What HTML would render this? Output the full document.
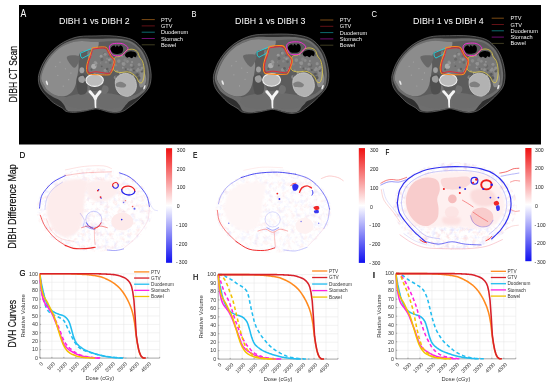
<!DOCTYPE html>
<html><head><meta charset="utf-8"><title>DIBH figure</title>
<style>
html,body{margin:0;padding:0;background:#fff;}
svg{display:block}
text{font-family:"Liberation Sans",sans-serif}
</style></head><body>
<svg width="550" height="387" viewBox="0 0 550 387">
<defs>
<filter id="b1" x="-20%" y="-20%" width="140%" height="140%"><feGaussianBlur stdDeviation="0.55"/></filter>
<filter id="b2" x="-20%" y="-20%" width="140%" height="140%"><feGaussianBlur stdDeviation="1.1"/></filter>
<filter id="b3" x="-20%" y="-20%" width="140%" height="140%"><feGaussianBlur stdDeviation="0.3"/></filter>
<g id="ctbody">
<g filter="url(#b1)">
<path d="M95.90,35.90 C90.90,36.02 84.52,35.87 80.00,36.50 C75.48,37.13 72.40,38.20 68.80,39.70 C65.20,41.20 61.63,43.13 58.40,45.50 C55.17,47.87 51.98,50.88 49.40,53.90 C46.82,56.92 44.63,60.27 42.90,63.60 C41.17,66.93 39.75,71.17 39.00,73.90 C38.25,76.63 38.35,78.07 38.40,80.00 C38.45,81.93 38.73,83.75 39.30,85.50 C39.87,87.25 40.68,88.83 41.80,90.50 C42.92,92.17 44.08,93.47 46.00,95.50 C47.92,97.53 50.57,100.58 53.30,102.70 C56.03,104.82 60.28,106.77 62.40,108.20 C64.52,109.63 64.18,110.60 66.00,111.30 C67.82,112.00 70.57,112.37 73.30,112.40 C76.03,112.43 79.37,111.97 82.40,111.50 C85.43,111.03 89.23,110.03 91.50,109.60 C93.77,109.17 94.50,108.90 96.00,108.90 C97.50,108.90 98.53,109.12 100.50,109.60 C102.47,110.08 105.37,111.25 107.80,111.80 C110.23,112.35 112.67,112.95 115.10,112.90 C117.53,112.85 120.28,112.28 122.40,111.50 C124.52,110.72 125.38,109.97 127.80,108.20 C130.22,106.43 134.17,103.33 136.90,100.90 C139.63,98.47 142.25,95.75 144.20,93.60 C146.15,91.45 147.53,89.93 148.60,88.00 C149.67,86.07 150.18,84.35 150.60,82.00 C151.02,79.65 151.30,76.97 151.10,73.90 C150.90,70.83 150.22,66.83 149.40,63.60 C148.58,60.37 147.60,57.30 146.20,54.50 C144.80,51.70 143.15,49.17 141.00,46.80 C138.85,44.43 136.32,41.92 133.30,40.30 C130.28,38.68 126.78,37.85 122.90,37.10 C119.02,36.35 114.50,36.00 110.00,35.80 C105.50,35.60 100.90,35.78 95.90,35.90Z" fill="#2e2e2e" stroke="#707070" stroke-width="0.7"/>
<path d="M95.84,38.73 C91.13,38.74 85.11,38.13 80.77,38.52 C76.42,38.91 73.34,39.75 69.79,41.07 C66.24,42.38 62.66,44.16 59.48,46.40 C56.29,48.64 53.20,51.59 50.66,54.51 C48.12,57.43 45.97,60.68 44.26,63.92 C42.55,67.16 41.14,71.29 40.40,73.95 C39.65,76.62 39.61,78.06 39.80,79.90 C39.98,81.74 40.55,83.07 41.50,85.00 C42.45,86.93 43.58,89.50 45.50,91.50 C47.42,93.50 50.58,95.50 53.00,97.00 C55.42,98.50 58.17,99.17 60.00,100.50 C61.83,101.83 62.83,103.37 64.00,105.00 C65.17,106.63 65.45,109.20 67.00,110.30 C68.55,111.40 70.73,111.52 73.30,111.60 C75.87,111.68 79.37,111.25 82.40,110.80 C85.43,110.35 89.23,109.33 91.50,108.90 C93.77,108.47 94.50,108.20 96.00,108.20 C97.50,108.20 98.53,108.43 100.50,108.90 C102.47,109.37 105.37,110.47 107.80,111.00 C110.23,111.53 112.90,112.13 115.10,112.10 C117.30,112.07 119.35,111.82 121.00,110.80 C122.65,109.78 123.67,107.55 125.00,106.00 C126.33,104.45 127.00,102.92 129.00,101.50 C131.00,100.08 134.42,99.17 137.00,97.50 C139.58,95.83 142.70,93.42 144.50,91.50 C146.30,89.58 147.10,87.62 147.80,86.00 C148.50,84.38 148.48,83.80 148.71,81.80 C148.94,79.79 149.40,76.93 149.20,73.97 C149.01,71.01 148.34,67.14 147.55,64.02 C146.76,60.90 145.81,57.94 144.45,55.24 C143.09,52.53 141.50,50.07 139.40,47.82 C137.29,45.56 134.78,43.16 131.80,41.70 C128.82,40.23 125.31,39.58 121.51,39.03 C117.72,38.48 113.31,38.46 109.03,38.41 C104.75,38.36 100.55,38.71 95.84,38.73Z" fill="#6e6e6e"/>
<path d="M95.76,42.11 C91.38,42.04 85.81,40.81 81.67,40.90 C77.53,40.99 74.43,41.57 70.93,42.65 C67.44,43.74 63.84,45.33 60.70,47.42 C57.57,49.51 54.58,52.40 52.10,55.21 C49.62,58.02 47.50,61.16 45.82,64.29 C44.13,67.43 42.74,71.43 42.00,74.01 C41.26,76.59 41.09,78.04 41.39,79.79 C41.69,81.54 42.78,82.80 43.80,84.50 C44.82,86.20 45.63,88.25 47.50,90.00 C49.37,91.75 52.08,93.83 55.00,95.00 C57.92,96.17 61.17,96.83 65.00,97.00 C68.83,97.17 74.17,96.67 78.00,96.00 C81.83,95.33 85.00,94.00 88.00,93.00 C91.00,92.00 93.33,90.00 96.00,90.00 C98.67,90.00 101.00,92.00 104.00,93.00 C107.00,94.00 110.17,95.33 114.00,96.00 C117.83,96.67 123.33,97.25 127.00,97.00 C130.67,96.75 133.42,95.67 136.00,94.50 C138.58,93.33 140.87,91.58 142.50,90.00 C144.13,88.42 145.08,86.40 145.80,85.00 C146.52,83.60 146.57,83.42 146.82,81.59 C147.07,79.77 147.49,76.90 147.30,74.04 C147.11,71.18 146.46,67.46 145.70,64.44 C144.93,61.43 144.01,58.57 142.70,55.97 C141.38,53.37 139.86,50.98 137.79,48.84 C135.72,46.70 133.23,44.42 130.27,43.13 C127.31,41.84 123.76,41.40 120.04,41.09 C116.32,40.79 112.00,41.12 107.95,41.29 C103.90,41.46 100.14,42.18 95.76,42.11Z" fill="#5c5c5c"/>
</g></g>
<g id="ctorg">
<g filter="url(#b1)">
<path d="M67.01,96.98 C69.25,95.74 73.90,94.95 77.34,94.29 C80.79,93.64 85.10,92.71 87.68,93.05 C90.26,93.40 92.09,94.16 92.85,96.36 C93.61,98.57 94.12,104.22 92.23,106.28 C90.33,108.35 85.34,108.76 81.48,108.76 C77.62,108.76 72.00,107.46 69.07,106.28 C66.15,105.11 64.25,103.29 63.91,101.74 C63.56,100.19 64.77,98.22 67.01,96.98Z" fill="#6c6c6c"/>
<path d="M124.89,96.98 C122.65,95.74 118.00,94.95 114.55,94.29 C111.11,93.64 106.80,92.71 104.22,93.05 C101.63,93.40 99.81,94.16 99.05,96.36 C98.29,98.57 97.77,104.22 99.67,106.28 C101.56,108.35 106.56,108.76 110.42,108.76 C114.28,108.76 119.89,107.46 122.82,106.28 C125.75,105.11 127.65,103.29 127.99,101.74 C128.33,100.19 127.13,98.22 124.89,96.98Z" fill="#6c6c6c"/>
<path d="M83.96,86.85 C84.79,85.96 87.44,84.79 88.51,85.61 C89.57,86.44 90.64,90.37 90.37,91.81 C90.09,93.26 87.99,94.43 86.85,94.29 C85.72,94.16 84.03,92.23 83.55,90.99 C83.06,89.75 83.13,87.75 83.96,86.85Z" fill="#707070"/>
<path d="M107.94,86.85 C107.11,85.96 104.46,84.79 103.39,85.61 C102.32,86.44 101.25,90.37 101.53,91.81 C101.81,93.26 103.91,94.43 105.04,94.29 C106.18,94.16 107.87,92.23 108.35,90.99 C108.83,89.75 108.76,87.75 107.94,86.85Z" fill="#707070"/>
<clipPath id="cavclip"><path d="M95.76,42.11 C91.38,42.04 85.81,40.81 81.67,40.90 C77.53,40.99 74.43,41.57 70.93,42.65 C67.44,43.74 63.84,45.33 60.70,47.42 C57.57,49.51 54.58,52.40 52.10,55.21 C49.62,58.02 47.50,61.16 45.82,64.29 C44.13,67.43 42.74,71.43 42.00,74.01 C41.26,76.59 41.09,78.04 41.39,79.79 C41.69,81.54 42.78,82.80 43.80,84.50 C44.82,86.20 45.63,88.25 47.50,90.00 C49.37,91.75 52.08,93.83 55.00,95.00 C57.92,96.17 61.17,96.83 65.00,97.00 C68.83,97.17 74.17,96.67 78.00,96.00 C81.83,95.33 85.00,94.00 88.00,93.00 C91.00,92.00 93.33,90.00 96.00,90.00 C98.67,90.00 101.00,92.00 104.00,93.00 C107.00,94.00 110.17,95.33 114.00,96.00 C117.83,96.67 123.33,97.25 127.00,97.00 C130.67,96.75 133.42,95.67 136.00,94.50 C138.58,93.33 140.87,91.58 142.50,90.00 C144.13,88.42 145.08,86.40 145.80,85.00 C146.52,83.60 146.57,83.42 146.82,81.59 C147.07,79.77 147.49,76.90 147.30,74.04 C147.11,71.18 146.46,67.46 145.70,64.44 C144.93,61.43 144.01,58.57 142.70,55.97 C141.38,53.37 139.86,50.98 137.79,48.84 C135.72,46.70 133.23,44.42 130.27,43.13 C127.31,41.84 123.76,41.40 120.04,41.09 C116.32,40.79 112.00,41.12 107.95,41.29 C103.90,41.46 100.14,42.18 95.76,42.11Z"/></clipPath>
<path d="M40.13,75.28 C39.62,71.31 40.13,66.66 41.17,62.87 C42.20,59.08 43.92,55.64 46.34,52.54 C48.75,49.44 52.19,46.34 55.64,44.27 C59.08,42.20 63.39,41.17 67.01,40.13 C70.63,39.10 73.55,38.41 77.34,38.07 C81.13,37.72 86.30,37.72 89.75,38.07 C93.19,38.41 96.78,38.48 98.02,40.13 C99.26,41.79 98.91,46.27 97.19,47.99 C95.47,49.71 90.47,49.71 87.68,50.47 C84.89,51.23 81.99,51.16 80.44,52.54 C78.89,53.92 78.69,56.33 78.38,58.74 C78.07,61.15 78.76,64.08 78.58,67.01 C78.41,69.94 77.83,73.38 77.34,76.31 C76.86,79.24 76.45,82.17 75.69,84.58 C74.93,86.99 74.24,88.95 72.80,90.78 C71.35,92.61 69.35,94.60 67.01,95.53 C64.66,96.47 61.50,96.71 58.74,96.36 C55.98,96.02 52.88,95.09 50.47,93.47 C48.06,91.85 45.99,89.68 44.27,86.65 C42.55,83.61 40.65,79.24 40.13,75.28Z" fill="#8c8c8c" clip-path="url(#cavclip)"/>
<path d="M76.93,77.34 C78.14,74.38 83.96,73.28 85.61,75.69 C87.27,78.10 88.06,88.85 86.85,91.81 C85.65,94.78 80.03,95.88 78.38,93.47 C76.72,91.06 75.72,80.31 76.93,77.34Z" fill="#505050"/>
<path d="M67.01,56.67 C68.04,55.26 74.17,55.29 76.31,55.43 C78.45,55.57 79.58,56.09 79.82,57.50 C80.07,58.91 78.65,62.22 77.76,63.91 C76.86,65.60 75.72,67.63 74.45,67.63 C73.17,67.63 71.35,65.73 70.11,63.91 C68.87,62.08 65.97,58.08 67.01,56.67Z" fill="#686868"/>
<path d="M88.40,50.85 C91.04,49.17 100.16,47.75 103.91,48.53 C107.65,49.30 109.13,53.31 110.88,55.50 C112.64,57.70 114.19,59.12 114.45,61.71 C114.71,64.29 113.67,68.99 112.43,71.01 C111.19,73.02 110.50,73.41 107.01,73.80 C103.52,74.19 94.81,74.32 91.50,73.33 C88.20,72.35 87.73,70.36 87.16,67.91 C86.59,65.45 87.89,61.45 88.09,58.60 C88.30,55.76 85.77,52.53 88.40,50.85Z" fill="#7a7a7a"/>
<path d="M114.76,58.60 C116.05,56.28 119.41,57.57 122.51,56.28 C125.61,54.99 130.52,50.72 133.36,50.85 C136.21,50.98 137.81,54.21 139.57,57.05 C141.32,59.90 143.34,64.03 143.91,67.91 C144.48,71.78 143.96,78.37 142.98,80.31 C141.99,82.25 139.88,80.70 138.02,79.53 C136.16,78.37 134.66,74.50 131.81,73.33 C128.97,72.17 123.80,73.07 120.96,72.56 C118.12,72.04 115.79,72.56 114.76,70.23 C113.73,67.91 113.47,60.93 114.76,58.60Z" fill="#787878"/>
<path d="M138.55,68.73 C139.17,68.18 142.74,70.37 144.01,72.00 C145.28,73.64 146.08,76.37 146.19,78.55 C146.30,80.73 145.64,83.64 144.66,85.09 C143.68,86.55 141.32,88.00 140.30,87.28 C139.28,86.55 138.55,82.73 138.55,80.73 C138.55,78.73 140.30,77.28 140.30,75.28 C140.30,73.28 137.93,69.28 138.55,68.73Z" fill="#8a8a8a"/>
<path d="M78.55,77.46 C79.17,76.44 81.82,75.35 82.91,75.71 C84.00,76.08 85.09,78.44 85.09,79.64 C85.09,80.84 83.89,82.55 82.91,82.91 C81.93,83.28 79.93,82.73 79.20,81.82 C78.48,80.91 77.93,78.48 78.55,77.46Z" fill="#9c9c9c"/>
<circle cx="93.83" cy="66.36" r="2.6" fill="#acacac"/>
<ellipse cx="81.89" cy="70.23" rx="2.4" ry="2.9" fill="#a0a0a0"/>
<circle cx="95.30" cy="62.24" r="1.53" fill="#909090"/>
<circle cx="100.61" cy="63.01" r="0.81" fill="#888888"/>
<circle cx="108.78" cy="56.28" r="0.95" fill="#686868"/>
<circle cx="106.08" cy="62.18" r="1.18" fill="#888888"/>
<circle cx="104.32" cy="54.01" r="1.49" fill="#686868"/>
<circle cx="101.71" cy="66.37" r="0.93" fill="#606060"/>
<circle cx="111.48" cy="51.75" r="1.46" fill="#606060"/>
<circle cx="96.01" cy="63.30" r="1.37" fill="#989898"/>
<circle cx="110.66" cy="59.12" r="1.16" fill="#888888"/>
<circle cx="110.99" cy="69.25" r="0.83" fill="#606060"/>
<circle cx="101.08" cy="56.25" r="1.42" fill="#989898"/>
<circle cx="109.18" cy="59.67" r="1.26" fill="#989898"/>
<circle cx="101.96" cy="59.38" r="1.52" fill="#686868"/>
<circle cx="105.28" cy="70.30" r="1.59" fill="#909090"/>
<circle cx="105.04" cy="54.27" r="1.57" fill="#909090"/>
<circle cx="110.29" cy="62.76" r="1.31" fill="#686868"/>
<circle cx="112.17" cy="56.44" r="0.85" fill="#606060"/>
<circle cx="109.15" cy="71.57" r="1.08" fill="#606060"/>
<circle cx="91.45" cy="69.63" r="1.04" fill="#606060"/>
<circle cx="107.24" cy="69.12" r="1.28" fill="#606060"/>
<circle cx="107.08" cy="58.76" r="1.06" fill="#888888"/>
<circle cx="109.76" cy="71.38" r="0.99" fill="#888888"/>
<circle cx="90.76" cy="51.00" r="1.28" fill="#606060"/>
<circle cx="90.66" cy="54.98" r="1.03" fill="#989898"/>
<circle cx="95.87" cy="65.29" r="1.05" fill="#909090"/>
<circle cx="111.50" cy="69.62" r="1.10" fill="#989898"/>
<circle cx="139.14" cy="64.49" r="1.50" fill="#909090"/>
<circle cx="130.71" cy="69.93" r="1.41" fill="#909090"/>
<circle cx="127.23" cy="72.26" r="1.84" fill="#606060"/>
<circle cx="127.40" cy="61.51" r="1.45" fill="#8c8c8c"/>
<circle cx="115.85" cy="65.16" r="1.21" fill="#848484"/>
<circle cx="125.75" cy="69.21" r="0.96" fill="#606060"/>
<circle cx="132.56" cy="66.35" r="1.82" fill="#686868"/>
<circle cx="132.05" cy="61.99" r="0.92" fill="#949494"/>
<circle cx="117.18" cy="71.23" r="1.15" fill="#8c8c8c"/>
<circle cx="127.92" cy="69.29" r="1.08" fill="#8c8c8c"/>
<circle cx="120.56" cy="73.13" r="1.50" fill="#909090"/>
<circle cx="123.69" cy="64.28" r="1.71" fill="#909090"/>
<circle cx="141.89" cy="71.40" r="1.21" fill="#606060"/>
<circle cx="121.57" cy="74.20" r="1.23" fill="#606060"/>
<circle cx="133.93" cy="70.61" r="1.00" fill="#585858"/>
<circle cx="124.27" cy="63.27" r="1.12" fill="#909090"/>
<circle cx="137.51" cy="77.85" r="1.24" fill="#585858"/>
<circle cx="133.18" cy="76.08" r="1.17" fill="#949494"/>
<circle cx="136.89" cy="56.29" r="1.22" fill="#606060"/>
<circle cx="138.22" cy="68.87" r="1.18" fill="#909090"/>
<circle cx="137.44" cy="70.43" r="1.52" fill="#909090"/>
<circle cx="131.53" cy="65.30" r="1.69" fill="#848484"/>
<circle cx="122.89" cy="63.56" r="1.19" fill="#949494"/>
<circle cx="130.95" cy="56.33" r="1.06" fill="#949494"/>
<circle cx="115.66" cy="77.44" r="1.89" fill="#848484"/>
<circle cx="127.32" cy="77.60" r="1.12" fill="#686868"/>
<circle cx="135.76" cy="74.96" r="1.65" fill="#686868"/>
<circle cx="141.67" cy="68.15" r="1.76" fill="#606060"/>
<circle cx="138.81" cy="78.08" r="1.71" fill="#585858"/>
<circle cx="116.76" cy="76.52" r="1.41" fill="#686868"/>
<circle cx="120.92" cy="76.05" r="1.48" fill="#949494"/>
<circle cx="115.89" cy="72.84" r="1.40" fill="#606060"/>
<circle cx="122.02" cy="55.97" r="1.31" fill="#848484"/>
<circle cx="141.01" cy="69.74" r="1.03" fill="#8c8c8c"/>
<circle cx="141.91" cy="68.08" r="1.68" fill="#909090"/>
<circle cx="125.08" cy="60.09" r="1.79" fill="#848484"/>
<circle cx="118.77" cy="61.07" r="1.82" fill="#8c8c8c"/>
<circle cx="137.40" cy="74.66" r="1.39" fill="#585858"/>
<circle cx="131.02" cy="64.81" r="1.17" fill="#909090"/>
<circle cx="122.82" cy="67.77" r="0.95" fill="#949494"/>
<path d="M115.55,85.68 C115.32,83.67 115.05,80.76 116.00,78.86 C116.95,76.97 119.22,75.19 121.23,74.32 C123.23,73.45 125.89,73.07 128.05,73.64 C130.20,74.20 132.78,75.72 134.18,77.73 C135.58,79.73 136.45,83.22 136.45,85.68 C136.45,88.14 135.58,90.72 134.18,92.50 C132.78,94.28 130.20,95.98 128.05,96.36 C125.89,96.74 123.01,95.68 121.23,94.77 C119.45,93.86 118.31,92.42 117.36,90.91 C116.42,89.39 115.77,87.69 115.55,85.68Z" fill="#b2b2b2" stroke="#c8c8c8" stroke-width="0.8"/>
<path d="M116.00,83.64 C116.68,82.88 118.88,81.67 120.55,81.82 C122.21,81.97 125.32,83.64 126.00,84.55 C126.68,85.45 125.70,86.82 124.64,87.27 C123.58,87.73 121.00,87.42 119.64,87.27 C118.27,87.12 117.06,86.97 116.45,86.36 C115.85,85.76 115.32,84.39 116.00,83.64Z" fill="#808080"/>
<circle cx="60.00" cy="62.18" r="0.6" fill="#a6a6a6"/>
<circle cx="65.46" cy="68.73" r="0.6" fill="#a6a6a6"/>
<circle cx="57.82" cy="75.28" r="0.6" fill="#a6a6a6"/>
<circle cx="68.73" cy="79.64" r="0.6" fill="#a6a6a6"/>
<circle cx="63.27" cy="86.19" r="0.6" fill="#a6a6a6"/>
<circle cx="55.64" cy="66.55" r="0.6" fill="#a6a6a6"/>
<circle cx="70.91" cy="73.09" r="0.6" fill="#a6a6a6"/>
</g>
<g filter="url(#b3)">
<path d="M110.42,49.61 C110.21,48.48 111.30,47.18 111.97,46.51 C112.64,45.84 113.83,45.48 114.45,45.58 C115.07,45.68 115.28,47.18 115.69,47.13 C116.10,47.08 116.41,45.32 116.93,45.27 C117.45,45.22 118.22,46.82 118.79,46.82 C119.36,46.82 119.72,45.27 120.34,45.27 C120.96,45.27 122.05,46.10 122.51,46.82 C122.98,47.55 123.24,48.63 123.13,49.61 C123.03,50.59 122.77,51.99 121.89,52.71 C121.01,53.44 119.31,53.85 117.86,53.95 C116.41,54.06 114.45,54.06 113.21,53.33 C111.97,52.61 110.63,50.75 110.42,49.61Z" fill="#000"/>
<path d="M124.99,55.19 C124.94,54.32 125.97,53.07 126.85,52.40 C127.73,51.73 128.97,51.27 130.26,51.16 C131.56,51.06 133.52,51.27 134.60,51.78 C135.69,52.30 136.62,53.33 136.78,54.26 C136.93,55.19 136.05,57.00 135.53,57.36 C135.02,57.73 134.29,56.28 133.67,56.43 C133.05,56.59 132.54,58.19 131.81,58.29 C131.09,58.40 130.11,57.16 129.33,57.05 C128.56,56.95 127.89,57.98 127.16,57.67 C126.44,57.36 125.04,56.07 124.99,55.19Z" fill="#000"/>
<ellipse cx="94.63" cy="80.29" rx="8.7" ry="6.1" fill="#bcbcbc" stroke="#f0f0f0" stroke-width="1.05"/>
<ellipse cx="94.88" cy="89.11" rx="4.2" ry="1.9" fill="#5c5c5c"/>
<path d="M88.67,90.60 L90.78,90.35 L95.01,95.57 L99.23,90.35 L101.34,90.60 L101.47,92.21 L97.61,97.06 L96.37,100.16 L96.25,105.75 L96.50,107.74 L94.88,107.99 L94.63,105.75 L94.39,100.16 L92.89,97.06 L88.55,92.21Z" fill="#f6f6f6"/>
<ellipse cx="46.91" cy="82.91" rx="0.9" ry="2.4" fill="#e8e8e8" transform="rotate(-20 46.91 82.91)"/>
<ellipse cx="144.44" cy="87.28" rx="0.9" ry="2.4" fill="#e8e8e8" transform="rotate(20 144.44 87.28)"/>
</g>
</g>
</defs>
<rect x="19" y="5" width="522" height="139.5" fill="#000"/>
<use href="#ctbody" transform="translate(94.75 74.35) scale(1.0000 1.0000) translate(-94.75 -74.35)"/>
<use href="#ctorg" transform="translate(94.75 74.35) scale(1.0000 1.0000) translate(-94.75 -74.35)"/>
<g transform="translate(94.75 74.35) scale(1.0000 1.0000) translate(-94.75 -74.35)" fill="none" stroke-linejoin="round">
<path d="M124.06,53.18 C125.22,52.14 125.74,50.72 127.16,50.08 C128.58,49.43 130.91,49.04 132.59,49.30 C134.27,49.56 136.08,50.34 137.24,51.63 C138.40,52.92 138.66,55.37 139.57,57.05 C140.47,58.73 141.89,59.64 142.67,61.71 C143.44,63.77 144.01,66.87 144.22,69.46 C144.42,72.04 144.29,75.01 143.91,77.21 C143.52,79.41 142.74,81.86 141.89,82.64 C141.04,83.41 139.70,82.76 138.79,81.86 C137.89,80.96 137.63,78.63 136.47,77.21 C135.30,75.79 133.36,74.24 131.81,73.33 C130.26,72.43 128.97,71.91 127.16,71.78 C125.35,71.65 123.03,72.69 120.96,72.56 C118.89,72.43 116.05,72.04 114.76,71.01 C113.47,69.97 113.34,68.17 113.21,66.36 C113.08,64.55 113.60,61.71 113.98,60.16 C114.37,58.60 114.50,57.70 115.53,57.05 C116.57,56.41 118.76,56.93 120.19,56.28 C121.61,55.63 122.90,54.21 124.06,53.18Z" stroke="#ecd648" stroke-width="0.75"/>
<path d="M80.34,53.18 L91.50,48.53 L92.28,50.08 L89.18,54.73 L82.20,58.29 L80.65,56.28Z" stroke="#22d2dc" stroke-width="0.9"/>
<path d="M109.33,46.98 C109.59,45.56 110.50,44.47 112.43,43.88 C114.37,43.28 118.76,43.15 120.96,43.41 C123.16,43.67 124.45,44.57 125.61,45.43 C126.78,46.28 128.20,47.24 127.94,48.53 C127.68,49.82 125.22,52.02 124.06,53.18 C122.90,54.34 122.64,55.12 120.96,55.50 C119.28,55.89 115.66,56.02 113.98,55.50 C112.30,54.99 111.66,53.82 110.88,52.40 C110.11,50.98 109.07,48.40 109.33,46.98Z" stroke="#ff2ae0" stroke-width="0.9"/>
<path d="M93.05,47.75 C95.25,47.24 102.23,46.72 104.68,46.98 C107.14,47.24 106.75,47.88 107.78,49.30 C108.82,50.72 109.77,53.82 110.88,55.50 C111.99,57.18 113.80,58.09 114.45,59.38 C115.10,60.67 115.02,61.71 114.76,63.26 C114.50,64.81 113.55,67.00 112.90,68.68 C112.25,70.36 111.74,72.30 110.88,73.33 C110.03,74.37 111.01,74.70 107.78,74.88 C104.55,75.06 94.86,74.68 91.50,74.42 C88.14,74.16 88.45,74.42 87.63,73.33 C86.80,72.25 86.54,69.84 86.54,67.91 C86.54,65.97 87.06,63.77 87.63,61.71 C88.20,59.64 89.31,57.44 89.95,55.50 C90.60,53.57 90.99,51.37 91.50,50.08 C92.02,48.79 90.86,48.27 93.05,47.75Z" stroke="#ff8a1c" stroke-width="1.0"/>
<path d="M93.83,48.99 C95.90,48.53 102.41,47.75 104.68,48.06 C106.96,48.37 106.52,49.48 107.47,50.85 C108.43,52.22 109.39,54.78 110.42,56.28 C111.45,57.78 113.08,58.68 113.67,59.84 C114.27,61.01 114.24,61.78 113.98,63.26 C113.73,64.73 112.72,67.18 112.12,68.68 C111.53,70.18 111.27,71.47 110.42,72.25 C109.57,73.02 109.39,73.41 107.01,73.33 C104.63,73.26 99.00,71.86 96.16,71.78 C93.31,71.71 91.30,72.87 89.95,72.87 C88.61,72.87 88.48,72.74 88.09,71.78 C87.71,70.83 87.52,68.81 87.63,67.13 C87.73,65.45 88.20,63.51 88.71,61.71 C89.23,59.90 90.13,58.09 90.73,56.28 C91.32,54.47 91.76,52.07 92.28,50.85 C92.80,49.64 91.76,49.46 93.83,48.99Z" stroke="#ee2030" stroke-width="0.9"/>
</g>
<use href="#ctbody" transform="translate(271.10 73.80) scale(1.0240 1.0298) translate(-94.75 -74.35)"/>
<use href="#ctorg" transform="translate(271.70 73.80) scale(1.0240 1.0298) translate(-94.75 -74.35)"/>
<g transform="translate(271.70 73.80) scale(1.0240 1.0298) translate(-94.75 -74.35)" fill="none" stroke-linejoin="round">
<path d="M124.06,53.18 C125.22,52.14 125.74,50.72 127.16,50.08 C128.58,49.43 130.91,49.04 132.59,49.30 C134.27,49.56 136.08,50.34 137.24,51.63 C138.40,52.92 138.66,55.37 139.57,57.05 C140.47,58.73 141.89,59.64 142.67,61.71 C143.44,63.77 144.01,66.87 144.22,69.46 C144.42,72.04 144.29,75.01 143.91,77.21 C143.52,79.41 142.74,81.86 141.89,82.64 C141.04,83.41 139.70,82.76 138.79,81.86 C137.89,80.96 137.63,78.63 136.47,77.21 C135.30,75.79 133.36,74.24 131.81,73.33 C130.26,72.43 128.97,71.91 127.16,71.78 C125.35,71.65 123.03,72.69 120.96,72.56 C118.89,72.43 116.05,72.04 114.76,71.01 C113.47,69.97 113.34,68.17 113.21,66.36 C113.08,64.55 113.60,61.71 113.98,60.16 C114.37,58.60 114.50,57.70 115.53,57.05 C116.57,56.41 118.76,56.93 120.19,56.28 C121.61,55.63 122.90,54.21 124.06,53.18Z" stroke="#ecd648" stroke-width="0.75"/>
<path d="M80.34,53.18 L91.50,48.53 L92.28,50.08 L89.18,54.73 L82.20,58.29 L80.65,56.28Z" stroke="#22d2dc" stroke-width="0.9"/>
<path d="M109.33,46.98 C109.59,45.56 110.50,44.47 112.43,43.88 C114.37,43.28 118.76,43.15 120.96,43.41 C123.16,43.67 124.45,44.57 125.61,45.43 C126.78,46.28 128.20,47.24 127.94,48.53 C127.68,49.82 125.22,52.02 124.06,53.18 C122.90,54.34 122.64,55.12 120.96,55.50 C119.28,55.89 115.66,56.02 113.98,55.50 C112.30,54.99 111.66,53.82 110.88,52.40 C110.11,50.98 109.07,48.40 109.33,46.98Z" stroke="#ff2ae0" stroke-width="0.9"/>
<path d="M93.05,47.75 C95.25,47.24 102.23,46.72 104.68,46.98 C107.14,47.24 106.75,47.88 107.78,49.30 C108.82,50.72 109.77,53.82 110.88,55.50 C111.99,57.18 113.80,58.09 114.45,59.38 C115.10,60.67 115.02,61.71 114.76,63.26 C114.50,64.81 113.55,67.00 112.90,68.68 C112.25,70.36 111.74,72.30 110.88,73.33 C110.03,74.37 111.01,74.70 107.78,74.88 C104.55,75.06 94.86,74.68 91.50,74.42 C88.14,74.16 88.45,74.42 87.63,73.33 C86.80,72.25 86.54,69.84 86.54,67.91 C86.54,65.97 87.06,63.77 87.63,61.71 C88.20,59.64 89.31,57.44 89.95,55.50 C90.60,53.57 90.99,51.37 91.50,50.08 C92.02,48.79 90.86,48.27 93.05,47.75Z" stroke="#ff8a1c" stroke-width="1.0"/>
<path d="M93.83,48.99 C95.90,48.53 102.41,47.75 104.68,48.06 C106.96,48.37 106.52,49.48 107.47,50.85 C108.43,52.22 109.39,54.78 110.42,56.28 C111.45,57.78 113.08,58.68 113.67,59.84 C114.27,61.01 114.24,61.78 113.98,63.26 C113.73,64.73 112.72,67.18 112.12,68.68 C111.53,70.18 111.27,71.47 110.42,72.25 C109.57,73.02 109.39,73.41 107.01,73.33 C104.63,73.26 99.00,71.86 96.16,71.78 C93.31,71.71 91.30,72.87 89.95,72.87 C88.61,72.87 88.48,72.74 88.09,71.78 C87.71,70.83 87.52,68.81 87.63,67.13 C87.73,65.45 88.20,63.51 88.71,61.71 C89.23,59.90 90.13,58.09 90.73,56.28 C91.32,54.47 91.76,52.07 92.28,50.85 C92.80,49.64 91.76,49.46 93.83,48.99Z" stroke="#ee2030" stroke-width="0.9"/>
</g>
<use href="#ctbody" transform="translate(448.40 74.15) scale(1.0044 1.0000) translate(-94.75 -74.35)"/>
<use href="#ctorg" transform="translate(448.40 74.15) scale(1.0044 1.0000) translate(-94.75 -74.35)"/>
<g transform="translate(448.40 74.15) scale(1.0044 1.0000) translate(-94.75 -74.35)" fill="none" stroke-linejoin="round">
<path d="M124.06,53.18 C125.22,52.14 125.74,50.72 127.16,50.08 C128.58,49.43 130.91,49.04 132.59,49.30 C134.27,49.56 136.08,50.34 137.24,51.63 C138.40,52.92 138.66,55.37 139.57,57.05 C140.47,58.73 141.89,59.64 142.67,61.71 C143.44,63.77 144.01,66.87 144.22,69.46 C144.42,72.04 144.29,75.01 143.91,77.21 C143.52,79.41 142.74,81.86 141.89,82.64 C141.04,83.41 139.70,82.76 138.79,81.86 C137.89,80.96 137.63,78.63 136.47,77.21 C135.30,75.79 133.36,74.24 131.81,73.33 C130.26,72.43 128.97,71.91 127.16,71.78 C125.35,71.65 123.03,72.69 120.96,72.56 C118.89,72.43 116.05,72.04 114.76,71.01 C113.47,69.97 113.34,68.17 113.21,66.36 C113.08,64.55 113.60,61.71 113.98,60.16 C114.37,58.60 114.50,57.70 115.53,57.05 C116.57,56.41 118.76,56.93 120.19,56.28 C121.61,55.63 122.90,54.21 124.06,53.18Z" stroke="#ecd648" stroke-width="0.75"/>
<path d="M80.34,53.18 L91.50,48.53 L92.28,50.08 L89.18,54.73 L82.20,58.29 L80.65,56.28Z" stroke="#22d2dc" stroke-width="0.9"/>
<path d="M109.33,46.98 C109.59,45.56 110.50,44.47 112.43,43.88 C114.37,43.28 118.76,43.15 120.96,43.41 C123.16,43.67 124.45,44.57 125.61,45.43 C126.78,46.28 128.20,47.24 127.94,48.53 C127.68,49.82 125.22,52.02 124.06,53.18 C122.90,54.34 122.64,55.12 120.96,55.50 C119.28,55.89 115.66,56.02 113.98,55.50 C112.30,54.99 111.66,53.82 110.88,52.40 C110.11,50.98 109.07,48.40 109.33,46.98Z" stroke="#ff2ae0" stroke-width="0.9"/>
<path d="M93.05,47.75 C95.25,47.24 102.23,46.72 104.68,46.98 C107.14,47.24 106.75,47.88 107.78,49.30 C108.82,50.72 109.77,53.82 110.88,55.50 C111.99,57.18 113.80,58.09 114.45,59.38 C115.10,60.67 115.02,61.71 114.76,63.26 C114.50,64.81 113.55,67.00 112.90,68.68 C112.25,70.36 111.74,72.30 110.88,73.33 C110.03,74.37 111.01,74.70 107.78,74.88 C104.55,75.06 94.86,74.68 91.50,74.42 C88.14,74.16 88.45,74.42 87.63,73.33 C86.80,72.25 86.54,69.84 86.54,67.91 C86.54,65.97 87.06,63.77 87.63,61.71 C88.20,59.64 89.31,57.44 89.95,55.50 C90.60,53.57 90.99,51.37 91.50,50.08 C92.02,48.79 90.86,48.27 93.05,47.75Z" stroke="#ff8a1c" stroke-width="1.0"/>
<path d="M93.83,48.99 C95.90,48.53 102.41,47.75 104.68,48.06 C106.96,48.37 106.52,49.48 107.47,50.85 C108.43,52.22 109.39,54.78 110.42,56.28 C111.45,57.78 113.08,58.68 113.67,59.84 C114.27,61.01 114.24,61.78 113.98,63.26 C113.73,64.73 112.72,67.18 112.12,68.68 C111.53,70.18 111.27,71.47 110.42,72.25 C109.57,73.02 109.39,73.41 107.01,73.33 C104.63,73.26 99.00,71.86 96.16,71.78 C93.31,71.71 91.30,72.87 89.95,72.87 C88.61,72.87 88.48,72.74 88.09,71.78 C87.71,70.83 87.52,68.81 87.63,67.13 C87.73,65.45 88.20,63.51 88.71,61.71 C89.23,59.90 90.13,58.09 90.73,56.28 C91.32,54.47 91.76,52.07 92.28,50.85 C92.80,49.64 91.76,49.46 93.83,48.99Z" stroke="#ee2030" stroke-width="0.9"/>
</g>
<defs>
<filter id="nzr" x="0" y="0" width="100%" height="100%"><feTurbulence type="fractalNoise" baseFrequency="0.22" numOctaves="3" seed="7"/><feColorMatrix type="matrix" values="0 0 0 0 0.96  0 0 0 0 0.45  0 0 0 0 0.45  2.6 0 0 0 -1.25"/></filter>
<filter id="nzb" x="0" y="0" width="100%" height="100%"><feTurbulence type="fractalNoise" baseFrequency="0.22" numOctaves="3" seed="23"/><feColorMatrix type="matrix" values="0 0 0 0 0.45  0 0 0 0 0.45  0 0 0 0 0.98  0 2.6 0 0 -1.3"/></filter>
<clipPath id="cpD"><ellipse cx="94.5" cy="210" rx="58" ry="42"/></clipPath>
<clipPath id="cpE"><ellipse cx="273.5" cy="211" rx="58" ry="42"/></clipPath>
<clipPath id="cpF"><ellipse cx="455" cy="206" rx="62" ry="44"/></clipPath>
</defs>
<g clip-path="url(#cpD)"><rect x="30" y="160" width="130" height="100" filter="url(#nzr)" opacity="0.28"/><rect x="30" y="160" width="130" height="100" filter="url(#nzb)" opacity="0.22"/></g>
<g clip-path="url(#cpE)"><rect x="208" y="160" width="130" height="100" filter="url(#nzr)" opacity="0.2"/><rect x="208" y="160" width="130" height="100" filter="url(#nzb)" opacity="0.2"/></g>
<g clip-path="url(#cpF)"><rect x="385" y="155" width="140" height="100" filter="url(#nzr)" opacity="0.35"/><rect x="385" y="155" width="140" height="100" filter="url(#nzb)" opacity="0.3"/></g>
<g filter="url(#b3)">
<path d="M46.82,206.56 C47.28,202.26 47.96,195.71 50.35,191.64 C52.75,187.56 56.68,184.26 61.21,182.14 C65.73,180.01 72.97,178.88 77.49,178.88 C82.01,178.88 86.99,179.79 88.34,182.14 C89.70,184.49 86.31,189.37 85.63,192.99 C84.95,196.61 84.73,200.00 84.27,203.85 C83.82,207.69 83.60,212.21 82.92,216.06 C82.24,219.90 81.79,223.75 80.20,226.91 C78.62,230.08 76.36,233.47 73.42,235.05 C70.48,236.64 65.96,237.54 62.56,236.41 C59.17,235.28 55.55,231.44 53.07,228.27 C50.58,225.10 48.68,221.03 47.64,217.42 C46.60,213.80 46.37,210.86 46.82,206.56Z" fill="#fdecec" fill-opacity="1" filter="url(#b2)"/>
<path d="M88.34,182.14 C92.42,180.10 106.21,179.88 111.41,180.78 C116.61,181.68 119.55,184.62 119.55,187.56 C119.55,190.50 115.48,196.16 111.41,198.42 C107.34,200.68 99.20,202.04 95.13,201.13 C91.06,200.23 88.12,196.16 86.99,192.99 C85.86,189.83 84.27,184.17 88.34,182.14Z" fill="#fdeeee" fill-opacity="1" filter="url(#b2)"/>
<ellipse cx="122.27" cy="221.49" rx="11" ry="9" fill="#fdeaea" stroke="none" stroke-width="0.6" opacity="1.0"/>
<path d="M39.50,208.19 C39.72,206.56 40.09,201.18 40.85,198.42 C41.62,195.66 42.08,194.35 44.11,191.64 C46.15,188.92 49.54,184.81 53.07,182.14 C56.59,179.47 63.24,176.71 65.28,175.62" fill="none" stroke="#2222ee" stroke-width="0.9" stroke-opacity="0.85" stroke-linecap="round"/>
<path d="M65.28,175.62 C68.44,175.17 76.59,173.54 84.27,172.91 C91.96,172.28 106.89,172.01 111.41,171.82" fill="none" stroke="#ee1c1c" stroke-width="0.5" stroke-opacity="0.45" stroke-linecap="round"/>
<path d="M119.55,172.91 C121.14,173.54 125.88,174.72 129.05,176.71 C132.22,178.70 135.61,181.68 138.55,184.85 C141.49,188.02 144.88,192.09 146.69,195.71 C148.50,199.32 148.95,204.75 149.40,206.56" fill="none" stroke="#2222ee" stroke-width="0.9" stroke-opacity="0.8" stroke-linecap="round"/>
<path d="M149.40,206.56 C149.13,208.82 149.13,216.06 147.77,220.13 C146.42,224.20 143.70,227.59 141.26,230.98 C138.82,234.38 136.06,237.63 133.12,240.48 C130.18,243.33 125.21,246.81 123.62,248.08" fill="none" stroke="#e8a0c0" stroke-width="0.5" stroke-opacity="0.5" stroke-linecap="round"/>
<path d="M123.62,248.89 C122.27,249.17 118.20,250.34 115.48,250.52 C112.77,250.70 108.70,250.07 107.34,249.98" fill="none" stroke="#2222ee" stroke-width="0.8" stroke-opacity="0.5" stroke-linecap="round"/>
<path d="M40.31,215.24 C41.08,217.05 42.57,222.35 44.93,226.10 C47.28,229.85 51.03,234.56 54.42,237.77 C57.82,240.98 63.47,244.10 65.28,245.37" fill="none" stroke="#ee1c1c" stroke-width="0.9" stroke-opacity="0.75" stroke-linecap="round"/>
<path d="M65.28,245.37 C66.64,245.86 70.25,247.81 73.42,248.35 C76.59,248.89 80.66,248.80 84.27,248.62 C87.89,248.44 93.32,247.49 95.13,247.27" fill="none" stroke="#ee1c1c" stroke-width="1.2" stroke-opacity="0.95" stroke-linecap="round"/>
<path d="M44.93,209.27 C45.24,207.46 45.47,201.81 46.82,198.42 C48.18,195.03 50.44,191.64 53.07,188.92 C55.69,186.21 60.98,183.27 62.56,182.14" fill="none" stroke="#2222ee" stroke-width="0.4" stroke-opacity="0.45" stroke-linecap="round"/>
<path d="M46.28,218.77 C47.19,220.81 49.22,227.68 51.71,230.98 C54.20,234.29 57.59,236.86 61.21,238.58 C64.83,240.30 71.38,240.84 73.42,241.30" fill="none" stroke="#ee1c1c" stroke-width="0.4" stroke-opacity="0.35" stroke-linecap="round"/>
<path d="M65.28,169.93 C68.44,169.34 77.94,167.08 84.27,166.40 C90.61,165.72 98.75,165.49 103.27,165.85 C107.79,166.22 110.05,168.12 111.41,168.57" fill="none" stroke="#ee1c1c" stroke-width="0.4" stroke-opacity="0.3" stroke-linecap="round"/>
<path d="M149.40,202.49 C150.08,203.62 152.12,207.92 153.47,209.27 C154.83,210.63 156.87,210.40 157.54,210.63" fill="none" stroke="#2222ee" stroke-width="0.4" stroke-opacity="0.3" stroke-linecap="round"/>
<ellipse cx="93.77" cy="219.31" rx="8.0" ry="8.0" fill="none" stroke="#7a7af4" stroke-width="0.5" opacity="0.75"/>
<path d="M86.45,222.84 C86.90,223.48 88.07,225.78 89.16,226.64 C90.24,227.50 92.32,227.77 92.96,228.00" fill="none" stroke="#2222ee" stroke-width="0.9" stroke-opacity="0.9" stroke-linecap="round"/>
<path d="M94.59,228.27 C95.22,228.00 97.30,227.55 98.39,226.64 C99.47,225.74 100.65,223.48 101.10,222.84" fill="none" stroke="#ee1c1c" stroke-width="0.9" stroke-opacity="0.9" stroke-linecap="round"/>
<path d="M81.56,227.73 C82.69,227.46 86.31,225.92 88.34,226.10 C90.38,226.28 91.83,228.81 93.77,228.81 C95.72,228.81 97.75,226.28 100.01,226.10 C102.27,225.92 106.12,227.46 107.34,227.73" fill="none" stroke="#ee1c1c" stroke-width="0.7" stroke-opacity="0.7" stroke-linecap="round"/>
<path d="M85.63,226.10 C86.31,226.46 88.12,227.68 89.70,228.27 C91.28,228.86 94.22,229.40 95.13,229.63" fill="none" stroke="#2222ee" stroke-width="0.6" stroke-opacity="0.7" stroke-linecap="round"/>
<path d="M94.31,229.63 C94.36,231.21 94.45,236.64 94.59,239.12 C94.72,241.61 95.04,243.65 95.13,244.55" fill="none" stroke="#ee1c1c" stroke-width="0.5" stroke-opacity="0.5" stroke-linecap="round"/>
<path d="M80.20,213.34 C80.88,214.48 83.82,217.87 84.27,220.13 C84.73,222.39 83.14,225.78 82.92,226.91" fill="none" stroke="#2222ee" stroke-width="0.4" stroke-opacity="0.5" stroke-linecap="round"/>
<g transform="translate(115.48 185.39) rotate(-25)" fill="none" stroke-width="1.0" stroke-linecap="round"><path d="M-2.8,0A2.8,2.8 0 0 1 2.8,0" stroke="#ee1c1c"/><path d="M-2.8,0A2.8,2.8 0 0 0 2.8,0" stroke="#2222ee"/></g>
<g transform="translate(128.24 190.55) rotate(8)" fill="none" stroke-width="1.3" stroke-linecap="round"><path d="M-6.6,0A6.6,4.4 0 0 1 6.6,0" stroke="#ee1c1c"/><path d="M-6.6,0A6.6,4.4 0 0 0 6.6,0" stroke="#2222ee"/></g>
<ellipse cx="97.84" cy="190.55" rx="0.9" ry="0.9" fill="#ee1c1c" stroke="none" stroke-width="0.6" opacity="1.0"/>
<ellipse cx="98.66" cy="189.74" rx="0.7" ry="0.7" fill="#2222ee" stroke="none" stroke-width="0.6" opacity="1.0"/>
<ellipse cx="100.56" cy="197.06" rx="0.9" ry="0.9" fill="#ee1c1c" stroke="none" stroke-width="0.6" opacity="1.0"/>
<ellipse cx="101.10" cy="198.15" rx="0.6" ry="0.6" fill="#2222ee" stroke="none" stroke-width="0.6" opacity="1.0"/>
<ellipse cx="121.72" cy="219.59" rx="0.8" ry="0.8" fill="#2222ee" stroke="none" stroke-width="0.6" opacity="1.0"/>
<ellipse cx="134.48" cy="208.73" rx="1.0" ry="1.0" fill="#2222ee" stroke="none" stroke-width="0.6" opacity="0.7"/>
<ellipse cx="132.58" cy="206.56" rx="0.8" ry="0.8" fill="#ee1c1c" stroke="none" stroke-width="0.6" opacity="0.7"/>
<ellipse cx="123.62" cy="202.49" rx="0.8" ry="0.8" fill="#2222ee" stroke="none" stroke-width="0.6" opacity="0.6"/>
<ellipse cx="125.52" cy="200.59" rx="0.7" ry="0.7" fill="#ee1c1c" stroke="none" stroke-width="0.6" opacity="0.6"/>
<path d="M224.37,209.08 C224.37,204.56 225.67,197.67 228.25,193.58 C230.83,189.49 235.14,186.48 239.87,184.54 C244.61,182.60 252.36,181.74 256.67,181.96 C260.97,182.17 264.63,183.03 265.71,185.83 C266.78,188.63 263.77,194.44 263.12,198.75 C262.48,203.06 262.69,207.36 261.83,211.67 C260.97,215.97 260.11,221.35 257.96,224.58 C255.81,227.81 252.36,230.40 248.92,231.04 C245.47,231.69 240.74,230.18 237.29,228.46 C233.85,226.74 230.40,223.94 228.25,220.71 C226.10,217.48 224.37,213.60 224.37,209.08Z" fill="#fef6f6" fill-opacity="1" filter="url(#b2)"/>
<ellipse cx="304.46" cy="225.87" rx="9" ry="8" fill="#fef2f2" stroke="none" stroke-width="0.6" opacity="1.0"/>
<path d="M218.43,203.92 C218.86,202.54 219.38,198.66 221.02,195.65 C222.65,192.64 224.89,188.85 228.25,185.83 C231.61,182.82 239.01,178.94 241.17,177.57" fill="none" stroke="#2222ee" stroke-width="0.6" stroke-opacity="0.55" stroke-linecap="round"/>
<path d="M241.17,177.57 C243.75,176.88 250.64,174.34 256.67,173.43 C262.69,172.53 270.87,172.01 277.33,172.14 C283.79,172.27 292.40,173.86 295.42,174.21" fill="none" stroke="#2222ee" stroke-width="0.9" stroke-opacity="0.9" stroke-linecap="round"/>
<path d="M295.42,174.21 C297.57,174.94 304.46,176.45 308.33,178.60 C312.21,180.75 315.65,183.77 318.67,187.12 C321.68,190.48 324.61,195.09 326.42,198.75 C328.22,202.41 329.00,207.36 329.52,209.08" fill="none" stroke="#2222ee" stroke-width="0.8" stroke-opacity="0.75" stroke-linecap="round"/>
<path d="M329.52,209.08 C329.26,210.81 328.91,216.19 327.97,219.42 C327.02,222.65 324.52,226.95 323.83,228.46" fill="none" stroke="#2222ee" stroke-width="0.6" stroke-opacity="0.5" stroke-linecap="round"/>
<path d="M323.83,228.46 C322.54,229.96 318.75,234.57 316.08,237.50 C313.41,240.43 309.19,244.60 307.82,246.02" fill="none" stroke="#e8a0c0" stroke-width="0.5" stroke-opacity="0.5" stroke-linecap="round"/>
<path d="M307.04,247.32 C305.10,247.92 299.29,250.50 295.42,250.93 C291.54,251.36 285.73,250.07 283.79,249.90" fill="none" stroke="#2222ee" stroke-width="0.6" stroke-opacity="0.4" stroke-linecap="round"/>
<path d="M217.40,210.37 C217.70,212.10 217.83,217.26 219.21,220.71 C220.59,224.15 222.87,227.60 225.67,231.04 C228.47,234.49 234.28,239.65 236.00,241.37" fill="none" stroke="#ee1c1c" stroke-width="0.8" stroke-opacity="0.7" stroke-linecap="round"/>
<path d="M236.00,241.37 C238.15,242.67 244.18,247.62 248.92,249.12 C253.65,250.63 260.11,250.63 264.42,250.42 C268.72,250.20 273.03,248.26 274.75,247.83" fill="none" stroke="#ee1c1c" stroke-width="1.0" stroke-opacity="0.9" stroke-linecap="round"/>
<path d="M257.96,231.04 C259.25,230.74 263.25,229.02 265.71,229.23 C268.16,229.45 270.31,232.33 272.68,232.33 C275.05,232.33 277.42,229.45 279.92,229.23 C282.41,229.02 286.37,230.74 287.67,231.04" fill="none" stroke="#ee1c1c" stroke-width="0.6" stroke-opacity="0.6" stroke-linecap="round"/>
<path d="M274.23,232.85 C274.32,234.05 274.58,237.80 274.75,240.08 C274.92,242.36 275.18,245.46 275.27,246.54" fill="none" stroke="#ee1c1c" stroke-width="0.5" stroke-opacity="0.5" stroke-linecap="round"/>
<ellipse cx="272.68" cy="219.42" rx="7.6" ry="7.6" fill="none" stroke="#8a8af4" stroke-width="0.45" opacity="0.7"/>
<path d="M267.00,227.68 C267.95,228.11 270.75,230.27 272.68,230.27 C274.62,230.27 277.63,228.11 278.62,227.68" fill="none" stroke="#2222ee" stroke-width="0.6" stroke-opacity="0.7" stroke-linecap="round"/>
<path d="M321.25,178.60 C322.54,178.17 326.20,176.19 329.00,176.02 C331.80,175.84 335.67,176.79 338.04,177.57 C340.41,178.34 342.35,180.15 343.21,180.67" fill="none" stroke="#ee1c1c" stroke-width="0.5" stroke-opacity="0.4" stroke-linecap="round"/>
<path d="M243.75,170.33 C246.76,169.82 255.37,167.66 261.83,167.23 C268.29,166.80 279.05,167.66 282.50,167.75" fill="none" stroke="#ee1c1c" stroke-width="0.4" stroke-opacity="0.2" stroke-linecap="round"/>
<path d="M292.32,185.32 C292.66,184.20 294.38,183.68 295.42,183.77 C296.45,183.85 298.26,184.80 298.52,185.83 C298.77,186.87 297.83,189.19 296.97,189.97 C296.10,190.74 294.12,191.26 293.35,190.48 C292.57,189.71 291.97,186.44 292.32,185.32Z" fill="#2222ee" fill-opacity="0.95"/>
<path d="M290.77,185.83 C291.11,185.49 291.97,184.20 292.83,183.77 C293.69,183.34 295.42,183.34 295.93,183.25" fill="none" stroke="#ee1c1c" stroke-width="0.8" stroke-opacity="0.9" stroke-linecap="round"/>
<path d="M299.55,192.29 C299.94,191.56 300.63,188.98 301.87,187.90 C303.12,186.82 305.45,185.83 307.04,185.83 C308.63,185.83 310.70,187.56 311.43,187.90" fill="none" stroke="#ee1c1c" stroke-width="1.4" stroke-opacity="0.95" stroke-linecap="round"/>
<path d="M312.21,190.48 C312.34,190.91 313.03,192.29 312.98,193.07 C312.94,193.84 312.12,194.79 311.95,195.13" fill="none" stroke="#2222ee" stroke-width="1.0" stroke-opacity="0.9" stroke-linecap="round"/>
<path d="M313.50,207.02 C313.93,206.33 317.20,205.64 318.15,205.98 C319.10,206.33 319.61,208.39 319.18,209.08 C318.75,209.77 316.51,210.46 315.57,210.12 C314.62,209.77 313.07,207.71 313.50,207.02Z" fill="#ee1c1c" fill-opacity="0.95"/>
<path d="M314.02,210.63 C314.53,210.12 317.37,209.77 318.15,210.12 C318.92,210.46 319.18,212.18 318.67,212.70 C318.15,213.22 315.82,213.56 315.05,213.22 C314.27,212.87 313.50,211.15 314.02,210.63Z" fill="#2222ee" fill-opacity="0.9"/>
<ellipse cx="277.33" cy="193.58" rx="0.9" ry="0.9" fill="#ee1c1c" stroke="none" stroke-width="0.6" opacity="1.0"/>
<ellipse cx="279.40" cy="199.01" rx="0.9" ry="0.9" fill="#2222ee" stroke="none" stroke-width="0.6" opacity="1.0"/>
<ellipse cx="228.77" cy="223.29" rx="0.7" ry="0.7" fill="#2222ee" stroke="none" stroke-width="0.6" opacity="0.6"/>
<ellipse cx="301.10" cy="221.48" rx="0.7" ry="0.7" fill="#2222ee" stroke="none" stroke-width="0.6" opacity="0.6"/>
<ellipse cx="318.67" cy="223.29" rx="0.7" ry="0.7" fill="#2222ee" stroke="none" stroke-width="0.6" opacity="0.6"/>
<path d="M405.28,202.89 C405.05,198.46 405.28,194.47 406.61,190.92 C407.94,187.37 410.06,184.22 413.26,181.61 C416.45,178.99 420.88,176.82 425.76,175.22 C430.64,173.62 436.40,172.65 442.52,172.03 C448.64,171.41 456.27,171.23 462.48,171.50 C468.69,171.76 474.89,172.43 479.77,173.62 C484.65,174.82 488.51,176.51 491.74,178.68 C494.98,180.85 497.24,183.65 499.19,186.66 C501.14,189.68 502.56,193.40 503.45,196.77 C504.34,200.14 504.91,203.51 504.51,206.88 C504.12,210.25 502.74,214.02 501.06,216.99 C499.37,219.96 497.73,222.84 494.40,224.71 C491.08,226.57 486.87,227.72 481.10,228.17 C475.34,228.61 466.25,227.59 459.82,227.37 C453.39,227.15 448.07,226.84 442.52,226.84 C436.98,226.84 431.22,227.72 426.56,227.37 C421.90,227.01 417.69,226.35 414.59,224.71 C411.48,223.07 409.49,221.16 407.94,217.52 C406.38,213.89 405.50,207.32 405.28,202.89Z" fill="#fef0f0" fill-opacity="1" filter="url(#b2)"/>
<path d="M406.61,194.91 C407.71,190.92 409.93,185.82 413.26,182.94 C416.58,180.05 422.57,178.06 426.56,177.61 C430.55,177.17 434.99,178.28 437.20,180.28 C439.42,182.27 439.86,186.48 439.86,189.59 C439.86,192.69 437.42,195.80 437.20,198.90 C436.98,202.00 438.53,204.89 438.53,208.21 C438.53,211.54 438.75,215.97 437.20,218.85 C435.65,221.74 432.10,224.53 429.22,225.50 C426.34,226.48 422.88,226.04 419.91,224.71 C416.94,223.38 413.61,220.49 411.39,217.52 C409.18,214.55 407.40,210.65 406.61,206.88 C405.81,203.11 405.50,198.90 406.61,194.91Z" fill="#f8cccc" fill-opacity="1"/>
<path d="M441.19,179.48 C442.74,177.61 450.06,177.79 454.50,177.35 C458.93,176.91 465.23,175.75 467.80,176.82 C470.37,177.88 471.26,181.69 469.93,183.73 C468.60,185.77 463.94,188.26 459.82,189.06 C455.69,189.85 448.29,190.12 445.18,188.52 C442.08,186.93 439.64,181.34 441.19,179.48Z" fill="#fad8d8" fill-opacity="1"/>
<path d="M471.79,190.92 C474.23,189.06 482.56,188.39 486.42,189.06 C490.28,189.72 493.69,192.38 494.94,194.91 C496.18,197.44 496.18,202.36 493.87,204.22 C491.57,206.08 484.78,206.75 481.10,206.08 C477.42,205.42 473.34,202.76 471.79,200.23 C470.24,197.70 469.35,192.78 471.79,190.92Z" fill="#fbdcdc" fill-opacity="1" filter="url(#b2)"/>
<ellipse cx="452.37" cy="198.90" rx="4.3" ry="4.3" fill="#f6bcbc" stroke="none" stroke-width="0.6" opacity="1.0"/>
<ellipse cx="451.84" cy="212.20" rx="7" ry="6" fill="#fce4e4" stroke="none" stroke-width="0.6" opacity="1.0"/>
<path d="M470.46,216.19 C470.77,214.11 472.23,210.96 474.45,209.54 C476.67,208.12 480.88,207.24 483.76,207.68 C486.64,208.12 490.19,210.12 491.74,212.20 C493.30,214.29 493.74,217.83 493.07,220.18 C492.41,222.53 490.19,225.28 487.75,226.30 C485.31,227.32 480.97,227.01 478.44,226.30 C475.91,225.59 473.92,223.73 472.59,222.05 C471.26,220.36 470.15,218.28 470.46,216.19Z" fill="#f9cccc" fill-opacity="1"/>
<path d="M473.12,212.20 C474.23,212.96 477.33,215.17 479.77,216.73 C482.21,218.28 486.42,220.72 487.75,221.51" fill="none" stroke="#ee1c1c" stroke-width="0.7" stroke-opacity="0.6" stroke-linecap="round"/>
<path d="M470.46,215.66 C470.99,216.86 471.88,220.98 473.65,222.84 C475.43,224.71 478.53,226.39 481.10,226.84 C483.67,227.28 487.09,226.61 489.08,225.50 C491.08,224.40 492.41,221.07 493.07,220.18" fill="none" stroke="#2222ee" stroke-width="0.5" stroke-opacity="0.6" stroke-linecap="round"/>
<path d="M462.48,200.23 C463.59,200.89 467.36,203.11 469.13,204.22 C470.90,205.33 472.45,206.44 473.12,206.88" fill="none" stroke="#ee1c1c" stroke-width="0.8" stroke-opacity="0.6" stroke-linecap="round"/>
<path d="M442.52,217.52 C443.50,216.46 446.29,216.68 449.17,216.73 C452.06,216.77 458.13,216.64 459.82,217.79 C461.50,218.94 460.97,222.49 459.28,223.64 C457.60,224.80 452.37,224.80 449.71,224.71 C447.05,224.62 444.52,224.31 443.32,223.11 C442.12,221.91 441.55,218.59 442.52,217.52Z" fill="#fce0e0" fill-opacity="1" filter="url(#b2)"/>
<path d="M397.29,202.89 C397.74,200.67 398.18,193.58 399.95,189.59 C401.73,185.60 404.17,182.05 407.94,178.95 C411.71,175.84 417.03,172.91 422.57,170.96 C428.11,169.01 434.54,167.95 441.19,167.24 C447.84,166.53 455.83,166.44 462.48,166.71 C469.13,166.97 475.78,167.59 481.10,168.83 C486.42,170.08 490.64,171.81 494.40,174.16 C498.17,176.51 501.14,179.48 503.72,182.94 C506.29,186.39 508.64,190.92 509.84,194.91 C511.03,198.90 511.25,202.89 510.90,206.88 C510.55,210.87 509.35,215.08 507.71,218.85 C506.07,222.62 503.72,226.17 501.06,229.50 C498.40,232.82 493.30,237.26 491.74,238.81" fill="none" stroke="#2222ee" stroke-width="1.15" stroke-opacity="0.95" stroke-linecap="round"/>
<path d="M397.29,202.89 C397.60,204.44 397.83,209.10 399.16,212.20 C400.49,215.31 402.70,218.19 405.28,221.51 C407.85,224.84 411.26,228.83 414.59,232.16 C417.91,235.48 423.46,239.92 425.23,241.47" fill="none" stroke="#2222ee" stroke-width="1.15" stroke-opacity="0.95" stroke-linecap="round"/>
<path d="M425.23,241.47 C427.45,241.91 434.10,244.08 438.53,244.13 C442.97,244.17 447.40,241.73 451.84,241.73 C456.27,241.73 460.26,243.60 465.14,244.13 C470.02,244.66 478.44,244.79 481.10,244.93" fill="none" stroke="#2222ee" stroke-width="0.8" stroke-opacity="0.8" stroke-linecap="round"/>
<path d="M419.91,239.61 C420.44,239.96 421.99,241.20 423.10,241.73 C424.21,242.27 425.98,242.62 426.56,242.80" fill="none" stroke="#ee1c1c" stroke-width="1.0" stroke-opacity="0.9" stroke-linecap="round"/>
<path d="M485.89,240.67 C486.42,240.40 488.11,239.78 489.08,239.07 C490.06,238.36 491.30,236.86 491.74,236.41" fill="none" stroke="#ee1c1c" stroke-width="1.0" stroke-opacity="0.8" stroke-linecap="round"/>
<path d="M401.28,202.89 C401.73,200.89 402.26,194.47 403.95,190.92 C405.63,187.37 407.85,184.40 411.39,181.61 C414.94,178.81 420.04,175.93 425.23,174.16 C430.42,172.38 436.32,171.58 442.52,170.96 C448.73,170.34 456.27,170.17 462.48,170.43 C468.69,170.70 474.89,171.36 479.77,172.56 C484.65,173.76 488.33,175.44 491.74,177.61 C495.16,179.79 497.95,182.49 500.26,185.60 C502.56,188.70 504.51,192.69 505.58,196.24 C506.64,199.79 506.95,203.33 506.64,206.88 C506.33,210.43 505.22,214.20 503.72,217.52 C502.21,220.85 500.04,224.04 497.60,226.84 C495.16,229.63 490.50,233.04 489.08,234.28" fill="none" stroke="#6a6af2" stroke-width="0.5" stroke-opacity="0.7" stroke-linecap="round"/>
<path d="M401.28,202.89 C401.64,204.44 402.17,209.32 403.41,212.20 C404.65,215.08 406.43,217.39 408.73,220.18 C411.04,222.98 414.28,226.30 417.25,228.96 C420.22,231.62 422.79,234.51 426.56,236.15 C430.33,237.79 437.65,238.36 439.86,238.81" fill="none" stroke="#6a6af2" stroke-width="0.5" stroke-opacity="0.7" stroke-linecap="round"/>
<path d="M380.80,183.20 C381.77,182.71 384.79,180.90 386.65,180.28 C388.51,179.65 389.98,179.52 391.97,179.48 C393.97,179.43 396.19,180.36 398.62,180.01 C401.06,179.65 405.28,177.79 406.61,177.35" fill="none" stroke="#ee1c1c" stroke-width="0.8" stroke-opacity="0.7" stroke-linecap="round"/>
<path d="M380.80,185.06 C381.77,184.62 384.79,182.98 386.65,182.40 C388.51,181.83 389.98,181.65 391.97,181.61 C393.97,181.56 396.27,182.45 398.62,182.14 C400.97,181.83 404.83,180.14 406.07,179.74" fill="none" stroke="#2222ee" stroke-width="0.7" stroke-opacity="0.65" stroke-linecap="round"/>
<path d="M499.73,173.09 C500.97,172.83 504.96,172.20 507.18,171.50 C509.39,170.79 511.08,169.37 513.03,168.83 C514.98,168.30 517.91,168.39 518.88,168.30" fill="none" stroke="#ee1c1c" stroke-width="0.9" stroke-opacity="0.7" stroke-linecap="round"/>
<path d="M501.06,176.28 C502.39,176.02 506.07,175.22 509.04,174.69 C512.01,174.16 517.24,173.36 518.88,173.09" fill="none" stroke="#2222ee" stroke-width="0.6" stroke-opacity="0.55" stroke-linecap="round"/>
<path d="M510.37,182.14 C511.17,181.87 513.60,180.72 515.16,180.54 C516.71,180.36 518.93,180.98 519.68,181.07" fill="none" stroke="#ee1c1c" stroke-width="0.7" stroke-opacity="0.6" stroke-linecap="round"/>
<path d="M510.90,209.54 C511.61,209.85 513.74,211.18 515.16,211.40 C516.58,211.63 518.70,210.96 519.41,210.87" fill="none" stroke="#ee1c1c" stroke-width="0.7" stroke-opacity="0.55" stroke-linecap="round"/>
<path d="M381.33,189.59 C381.77,191.36 382.00,196.46 383.99,200.23 C385.99,204.00 390.64,208.57 393.30,212.20 C395.96,215.84 398.85,220.41 399.95,222.05" fill="none" stroke="#f09090" stroke-width="0.6" stroke-opacity="0.6" stroke-linecap="round"/>
<path d="M383.19,189.06 C383.72,190.83 384.35,195.97 386.39,199.70 C388.43,203.42 392.86,207.95 395.43,211.40 C398.00,214.86 400.75,218.94 401.82,220.45" fill="none" stroke="#9090f0" stroke-width="0.5" stroke-opacity="0.5" stroke-linecap="round"/>
<path d="M399.95,234.82 C401.95,236.15 407.71,240.67 411.93,242.80 C416.14,244.93 419.91,246.61 425.23,247.59 C430.55,248.56 436.76,248.47 443.85,248.65 C450.95,248.83 460.70,249.05 467.80,248.65 C474.89,248.25 480.66,247.77 486.42,246.26 C492.19,244.75 499.73,240.71 502.39,239.61" fill="none" stroke="#f08898" stroke-width="0.7" stroke-opacity="0.6" stroke-linecap="round"/>
<path d="M403.95,233.75 C405.72,234.91 410.82,238.81 414.59,240.67 C418.36,242.53 424.56,244.22 426.56,244.93" fill="none" stroke="#9090f0" stroke-width="0.5" stroke-opacity="0.5" stroke-linecap="round"/>
<path d="M505.05,230.03 C506.16,229.41 509.48,227.10 511.70,226.30 C513.92,225.50 517.24,225.42 518.35,225.24" fill="none" stroke="#f09090" stroke-width="0.6" stroke-opacity="0.55" stroke-linecap="round"/>
<ellipse cx="474.45" cy="180.81" rx="3.4" ry="3.4" fill="none" stroke="#2222ee" stroke-width="1.2" opacity="1.0"/>
<ellipse cx="476.31" cy="179.48" rx="1.2" ry="1.2" fill="#ee1c1c" stroke="none" stroke-width="0.6" opacity="1.0"/>
<ellipse cx="473.12" cy="182.67" rx="1.0" ry="1.0" fill="#ee1c1c" stroke="none" stroke-width="0.6" opacity="1.0"/>
<ellipse cx="486.42" cy="184.80" rx="5.2" ry="4.6" fill="none" stroke="#ee1c1c" stroke-width="1.9" opacity="1.0"/>
<ellipse cx="491.74" cy="184.80" rx="1.2" ry="1.2" fill="#2222ee" stroke="none" stroke-width="0.6" opacity="1.0"/>
<ellipse cx="483.23" cy="189.06" rx="1.0" ry="1.0" fill="#2222ee" stroke="none" stroke-width="0.6" opacity="1.0"/>
<path d="M493.87,202.36 C494.32,201.65 496.18,200.58 497.06,200.76 C497.95,200.94 499.19,202.62 499.19,203.42 C499.19,204.22 497.86,205.28 497.06,205.55 C496.27,205.82 494.94,205.55 494.40,205.02 C493.87,204.49 493.43,203.07 493.87,202.36Z" fill="#ee1c1c" fill-opacity="0.95"/>
<path d="M496.00,206.61 C496.36,205.73 498.57,205.02 499.19,205.55 C499.81,206.08 500.08,208.92 499.73,209.81 C499.37,210.69 497.69,211.40 497.06,210.87 C496.44,210.34 495.65,207.50 496.00,206.61Z" fill="#2222ee" fill-opacity="0.9"/>
<ellipse cx="459.82" cy="187.46" rx="1.0" ry="1.0" fill="#2222ee" stroke="none" stroke-width="0.6" opacity="1.0"/>
<ellipse cx="465.14" cy="189.06" rx="1.0" ry="1.0" fill="#2222ee" stroke="none" stroke-width="0.6" opacity="1.0"/>
<ellipse cx="459.82" cy="193.05" rx="1.0" ry="1.0" fill="#ee1c1c" stroke="none" stroke-width="0.6" opacity="1.0"/>
<ellipse cx="443.85" cy="189.06" rx="1.0" ry="1.0" fill="#ee1c1c" stroke="none" stroke-width="0.6" opacity="1.0"/>
<ellipse cx="490.41" cy="197.57" rx="0.9" ry="0.9" fill="#2222ee" stroke="none" stroke-width="0.6" opacity="1.0"/>
<ellipse cx="498.40" cy="197.57" rx="0.9" ry="0.9" fill="#2222ee" stroke="none" stroke-width="0.6" opacity="1.0"/>
</g>
<path d="M51.88,273.80V358.10 M39.90,349.67H159.70 M63.86,273.80V358.10 M39.90,341.24H159.70 M75.84,273.80V358.10 M39.90,332.81H159.70 M87.82,273.80V358.10 M39.90,324.38H159.70 M99.80,273.80V358.10 M39.90,315.95H159.70 M111.78,273.80V358.10 M39.90,307.52H159.70 M123.76,273.80V358.10 M39.90,299.09H159.70 M135.74,273.80V358.10 M39.90,290.66H159.70 M147.72,273.80V358.10 M39.90,282.23H159.70 M159.70,273.80V358.10 M39.90,273.80H159.70" stroke="#e4e4e4" stroke-width="0.5" fill="none"/>
<path d="M39.90,273.80V358.10H159.70" stroke="#6a6a6a" stroke-width="0.6" fill="none"/>
<path d="M39.90,358.10v-1.2 M39.90,358.10h1.2 M51.88,358.10v-1.2 M39.90,349.67h1.2 M63.86,358.10v-1.2 M39.90,341.24h1.2 M75.84,358.10v-1.2 M39.90,332.81h1.2 M87.82,358.10v-1.2 M39.90,324.38h1.2 M99.80,358.10v-1.2 M39.90,315.95h1.2 M111.78,358.10v-1.2 M39.90,307.52h1.2 M123.76,358.10v-1.2 M39.90,299.09h1.2 M135.74,358.10v-1.2 M39.90,290.66h1.2 M147.72,358.10v-1.2 M39.90,282.23h1.2 M159.70,358.10v-1.2 M39.90,273.80h1.2" stroke="#6a6a6a" stroke-width="0.5" fill="none"/>
<text x="37.90" y="359.90" font-size="5.3" text-anchor="end" fill="#333">0</text>
<text x="37.90" y="351.47" font-size="5.3" text-anchor="end" fill="#333">10</text>
<text x="37.90" y="343.04" font-size="5.3" text-anchor="end" fill="#333">20</text>
<text x="37.90" y="334.61" font-size="5.3" text-anchor="end" fill="#333">30</text>
<text x="37.90" y="326.18" font-size="5.3" text-anchor="end" fill="#333">40</text>
<text x="37.90" y="317.75" font-size="5.3" text-anchor="end" fill="#333">50</text>
<text x="37.90" y="309.32" font-size="5.3" text-anchor="end" fill="#333">60</text>
<text x="37.90" y="300.89" font-size="5.3" text-anchor="end" fill="#333">70</text>
<text x="37.90" y="292.46" font-size="5.3" text-anchor="end" fill="#333">80</text>
<text x="37.90" y="284.03" font-size="5.3" text-anchor="end" fill="#333">90</text>
<text x="37.90" y="275.60" font-size="5.3" text-anchor="end" fill="#333">100</text>
<text transform="translate(43.40 364.30) rotate(-45)" font-size="5.2" text-anchor="end" fill="#333">0</text>
<text transform="translate(55.38 364.30) rotate(-45)" font-size="5.2" text-anchor="end" fill="#333">500</text>
<text transform="translate(67.36 364.30) rotate(-45)" font-size="5.2" text-anchor="end" fill="#333">1000</text>
<text transform="translate(79.34 364.30) rotate(-45)" font-size="5.2" text-anchor="end" fill="#333">1500</text>
<text transform="translate(91.32 364.30) rotate(-45)" font-size="5.2" text-anchor="end" fill="#333">2000</text>
<text transform="translate(103.30 364.30) rotate(-45)" font-size="5.2" text-anchor="end" fill="#333">2500</text>
<text transform="translate(115.28 364.30) rotate(-45)" font-size="5.2" text-anchor="end" fill="#333">3000</text>
<text transform="translate(127.26 364.30) rotate(-45)" font-size="5.2" text-anchor="end" fill="#333">3500</text>
<text transform="translate(139.24 364.30) rotate(-45)" font-size="5.2" text-anchor="end" fill="#333">4000</text>
<text transform="translate(151.22 364.30) rotate(-45)" font-size="5.2" text-anchor="end" fill="#333">4500</text>
<text x="99.80" y="380.30" font-size="5.7" text-anchor="middle" fill="#333">Dose (cGy)</text>
<text transform="translate(24.90 315.95) rotate(-90)" font-size="6.0" text-anchor="middle" fill="#333">Relative Volume</text>
<path d="M39.90,273.80 L40.83,280.38 L41.76,285.08 L42.69,289.18 L43.62,293.30 L44.55,296.94 L45.48,299.85 L46.41,302.39 L47.34,304.42 L48.27,306.05 L49.20,307.52 L50.13,308.81 L51.06,309.91 L52.00,310.79 L52.93,311.47 L53.86,312.04 L54.79,312.52 L55.72,312.95 L56.65,313.34 L57.58,313.72 L58.51,314.09 L59.44,314.40 L60.37,314.67 L61.30,314.95 L62.23,315.26 L63.16,315.64 L64.09,316.12 L65.02,316.75 L65.95,317.54 L66.88,318.51 L67.81,319.69 L68.74,321.08 L69.67,323.30 L70.60,326.29 L71.53,329.44 L72.46,333.07 L73.39,336.39 L74.32,338.90 L75.26,341.05 L76.19,342.73 L77.12,343.94 L78.05,344.93 L78.98,345.77 L79.91,346.53 L80.84,347.24 L81.77,347.91 L82.70,348.54 L83.63,349.11 L84.56,349.64 L85.49,350.12 L86.42,350.57 L87.35,350.99 L88.28,351.39 L89.21,351.76 L90.14,352.12 L91.07,352.46 L92.00,352.79 L92.93,353.10 L93.86,353.41 L94.79,353.71 L95.72,354.00 L96.65,354.29 L97.58,354.56 L98.52,354.82 L99.45,355.07 L100.38,355.31 L101.31,355.54 L102.24,355.75 L103.17,355.95 L104.10,356.15 L105.03,356.34 L105.96,356.52 L106.89,356.69 L107.82,356.84 L108.75,356.98 L109.68,357.09 L110.61,357.20 L111.54,357.30 L112.47,357.40 L113.40,357.50 L114.33,357.59 L115.26,357.68 L116.19,357.76 L117.12,357.84 L118.05,357.91 L118.98,357.97 L119.91,358.02 L120.84,358.06 L121.78,358.08 L122.71,358.10" stroke="#22bdf0" stroke-width="1.55" fill="none" stroke-linejoin="round" stroke-linecap="butt"/>
<path d="M39.90,273.80 L40.87,282.31 L41.84,288.56 L42.81,294.01 L43.78,299.33 L44.75,303.48 L45.72,306.46 L46.68,308.80 L47.65,310.35 L48.62,311.46 L49.59,312.37 L50.56,313.12 L51.53,313.77 L52.50,314.36 L53.47,314.87 L54.44,315.30 L55.41,315.70 L56.38,316.09 L57.35,316.53 L58.31,317.03 L59.28,317.52 L60.25,318.02 L61.22,318.57 L62.19,319.22 L63.16,319.99 L64.13,320.98 L65.10,322.61 L66.07,324.69 L67.04,326.87 L68.01,328.90 L68.98,330.97 L69.94,333.03 L70.91,335.02 L71.88,337.03 L72.85,338.98 L73.82,340.77 L74.79,342.30 L75.76,343.67 L76.73,344.96 L77.70,346.14 L78.67,347.18 L79.64,348.03 L80.61,348.69 L81.57,349.25 L82.54,349.74 L83.51,350.17 L84.48,350.56 L85.45,350.93 L86.42,351.28 L87.39,351.63 L88.36,351.96 L89.33,352.28 L90.30,352.58 L91.27,352.86 L92.24,353.14 L93.20,353.41 L94.17,353.67 L95.14,353.92 L96.11,354.17 L97.08,354.42 L98.05,354.66 L99.02,354.90 L99.99,355.13 L100.96,355.35 L101.93,355.56 L102.90,355.76 L103.87,355.95 L104.83,356.12 L105.80,356.29 L106.77,356.45 L107.74,356.61 L108.71,356.76 L109.68,356.91 L110.65,357.04 L111.62,357.16 L112.59,357.27 L113.56,357.37 L114.53,357.45 L115.50,357.53 L116.46,357.61 L117.43,357.68 L118.40,357.75 L119.37,357.82 L120.34,357.88 L121.31,357.94 L122.28,357.99 L123.25,358.03 L124.22,358.06 L125.19,358.09 L126.16,358.10" stroke="#22bdf0" stroke-width="1.55" fill="none" stroke-linejoin="round" stroke-linecap="butt" stroke-dasharray="3.6 2.6"/>
<path d="M39.90,273.80 L40.57,282.86 L41.25,289.24 L41.92,293.30 L42.59,296.84 L43.27,299.49 L43.94,301.30 L44.61,302.74 L45.28,303.94 L45.96,304.95 L46.63,305.77 L47.30,306.53 L47.98,307.36 L48.65,308.30 L49.32,309.26 L50.00,310.26 L50.67,311.32 L51.34,312.45 L52.01,313.65 L52.69,314.98 L53.36,316.51 L54.03,318.17 L54.71,319.90 L55.38,321.62 L56.05,323.29 L56.73,324.97 L57.40,326.67 L58.07,328.41 L58.74,330.18 L59.42,332.04 L60.09,333.98 L60.76,335.92 L61.44,337.80 L62.11,339.66 L62.78,341.51 L63.46,343.13 L64.13,344.34 L64.80,345.37 L65.48,346.28 L66.15,347.08 L66.82,347.80 L67.49,348.44 L68.17,349.03 L68.84,349.55 L69.51,350.04 L70.19,350.49 L70.86,350.92 L71.53,351.33 L72.21,351.74 L72.88,352.15 L73.55,352.54 L74.22,352.93 L74.90,353.29 L75.57,353.64 L76.24,353.96 L76.92,354.26 L77.59,354.53 L78.26,354.80 L78.94,355.06 L79.61,355.30 L80.28,355.54 L80.96,355.76 L81.63,355.96 L82.30,356.15 L82.97,356.31 L83.65,356.46 L84.32,356.59 L84.99,356.71 L85.67,356.83 L86.34,356.94 L87.01,357.04 L87.69,357.13 L88.36,357.22 L89.03,357.30 L89.70,357.37 L90.38,357.44 L91.05,357.51 L91.72,357.57 L92.40,357.63 L93.07,357.69 L93.74,357.75 L94.42,357.80 L95.09,357.86 L95.76,357.91 L96.43,357.95 L97.11,357.99 L97.78,358.03 L98.45,358.06 L99.13,358.08 L99.80,358.10" stroke="#ff22e0" stroke-width="1.55" fill="none" stroke-linejoin="round" stroke-linecap="butt"/>
<path d="M39.90,273.80 L40.57,282.86 L41.25,289.24 L41.92,293.30 L42.59,296.84 L43.27,299.49 L43.94,301.30 L44.61,302.74 L45.28,303.94 L45.96,304.95 L46.63,305.79 L47.30,306.56 L47.98,307.37 L48.65,308.24 L49.32,309.10 L50.00,309.97 L50.67,310.88 L51.34,311.84 L52.01,312.89 L52.69,314.05 L53.36,315.41 L54.03,316.90 L54.71,318.44 L55.38,319.96 L56.05,321.42 L56.73,322.88 L57.40,324.36 L58.07,325.87 L58.74,327.44 L59.42,329.10 L60.09,330.86 L60.76,332.66 L61.44,334.43 L62.11,336.23 L62.78,338.05 L63.46,339.71 L64.13,341.04 L64.80,342.21 L65.48,343.27 L66.15,344.23 L66.82,345.12 L67.49,345.92 L68.17,346.67 L68.84,347.36 L69.51,348.01 L70.19,348.62 L70.86,349.19 L71.53,349.74 L72.21,350.26 L72.88,350.78 L73.55,351.28 L74.22,351.76 L74.90,352.22 L75.57,352.65 L76.24,353.04 L76.92,353.40 L77.59,353.73 L78.26,354.04 L78.94,354.34 L79.61,354.62 L80.28,354.89 L80.96,355.14 L81.63,355.37 L82.30,355.58 L82.97,355.78 L83.65,355.96 L84.32,356.13 L84.99,356.30 L85.67,356.45 L86.34,356.60 L87.01,356.74 L87.69,356.86 L88.36,356.98 L89.03,357.09 L89.70,357.19 L90.38,357.28 L91.05,357.36 L91.72,357.44 L92.40,357.52 L93.07,357.60 L93.74,357.67 L94.42,357.74 L95.09,357.81 L95.76,357.87 L96.43,357.92 L97.11,357.97 L97.78,358.02 L98.45,358.05 L99.13,358.08 L99.80,358.10" stroke="#ff22e0" stroke-width="1.55" fill="none" stroke-linejoin="round" stroke-linecap="butt" stroke-dasharray="3.6 2.6"/>
<path d="M39.90,273.80 L40.52,280.29 L41.14,285.87 L41.76,289.26 L42.38,291.81 L43.00,293.93 L43.62,295.70 L44.23,297.13 L44.85,298.30 L45.47,299.33 L46.09,300.27 L46.71,301.23 L47.33,302.29 L47.95,303.48 L48.57,304.74 L49.19,306.04 L49.81,307.37 L50.43,308.67 L51.05,309.94 L51.66,311.14 L52.28,312.32 L52.90,313.56 L53.52,314.90 L54.14,316.40 L54.76,318.17 L55.38,320.13 L56.00,322.21 L56.62,324.31 L57.24,326.34 L57.86,328.38 L58.48,330.45 L59.09,332.52 L59.71,334.55 L60.33,336.50 L60.95,338.38 L61.57,340.24 L62.19,342.00 L62.81,343.56 L63.43,344.90 L64.05,346.13 L64.67,347.23 L65.29,348.21 L65.91,349.10 L66.53,349.94 L67.14,350.71 L67.76,351.40 L68.38,351.98 L69.00,352.46 L69.62,352.88 L70.24,353.27 L70.86,353.62 L71.48,353.94 L72.10,354.24 L72.72,354.52 L73.34,354.78 L73.96,355.04 L74.57,355.29 L75.19,355.54 L75.81,355.78 L76.43,356.00 L77.05,356.21 L77.67,356.40 L78.29,356.58 L78.91,356.73 L79.53,356.85 L80.15,356.97 L80.77,357.07 L81.39,357.17 L82.00,357.27 L82.62,357.35 L83.24,357.44 L83.86,357.51 L84.48,357.58 L85.10,357.64 L85.72,357.69 L86.34,357.74 L86.96,357.78 L87.58,357.82 L88.20,357.85 L88.82,357.89 L89.44,357.93 L90.05,357.96 L90.67,357.99 L91.29,358.02 L91.91,358.04 L92.53,358.06 L93.15,358.08 L93.77,358.09 L94.39,358.10 L95.01,358.10" stroke="#f2c200" stroke-width="1.55" fill="none" stroke-linejoin="round" stroke-linecap="butt"/>
<path d="M39.90,273.80 L41.08,273.80 L42.27,273.80 L43.45,273.80 L44.64,273.80 L45.82,273.80 L47.01,273.80 L48.19,273.80 L49.38,273.80 L50.56,273.80 L51.75,273.80 L52.93,273.80 L54.11,273.80 L55.30,273.80 L56.48,273.80 L57.67,273.80 L58.85,273.80 L60.04,273.80 L61.22,273.80 L62.41,273.80 L63.59,273.80 L64.78,273.80 L65.96,273.80 L67.14,273.80 L68.33,273.80 L69.51,273.80 L70.70,273.82 L71.88,273.86 L73.07,273.90 L74.25,273.95 L75.44,274.01 L76.62,274.06 L77.81,274.12 L78.99,274.17 L80.17,274.23 L81.36,274.29 L82.54,274.36 L83.73,274.43 L84.91,274.51 L86.10,274.60 L87.28,274.69 L88.47,274.81 L89.65,274.94 L90.84,275.08 L92.02,275.24 L93.20,275.40 L94.39,275.57 L95.57,275.74 L96.76,275.93 L97.94,276.14 L99.13,276.38 L100.31,276.66 L101.50,277.00 L102.68,277.41 L103.87,277.88 L105.05,278.38 L106.23,278.93 L107.42,279.49 L108.60,280.08 L109.79,280.70 L110.97,281.38 L112.16,282.10 L113.34,282.88 L114.53,283.71 L115.71,284.59 L116.90,285.54 L118.08,286.59 L119.26,287.75 L120.45,289.03 L121.63,290.43 L122.82,292.01 L124.00,293.75 L125.19,295.64 L126.37,297.65 L127.56,299.84 L128.74,302.26 L129.92,304.95 L131.11,307.99 L132.29,311.71 L133.48,316.61 L134.66,323.30 L135.85,333.18 L137.03,341.62 L138.22,347.99 L139.40,352.60 L140.59,355.45 L141.77,357.00 L142.95,357.91 L144.14,358.07 L145.32,358.10" stroke="#ff8a1e" stroke-width="1.55" fill="none" stroke-linejoin="round" stroke-linecap="butt"/>
<path d="M39.90,273.80 L41.09,273.80 L42.28,273.80 L43.47,273.80 L44.66,273.80 L45.85,273.80 L47.04,273.80 L48.23,273.80 L49.42,273.80 L50.61,273.80 L51.80,273.80 L52.99,273.80 L54.18,273.80 L55.37,273.80 L56.56,273.80 L57.75,273.80 L58.94,273.80 L60.13,273.80 L61.32,273.80 L62.51,273.80 L63.70,273.80 L64.89,273.80 L66.08,273.80 L67.27,273.80 L68.46,273.80 L69.65,273.80 L70.84,273.80 L72.03,273.80 L73.22,273.80 L74.41,273.80 L75.60,273.80 L76.79,273.80 L77.98,273.80 L79.17,273.80 L80.36,273.80 L81.55,273.80 L82.74,273.80 L83.93,273.80 L85.12,273.80 L86.31,273.80 L87.50,273.80 L88.69,273.80 L89.88,273.80 L91.07,273.80 L92.26,273.80 L93.45,273.80 L94.64,273.80 L95.83,273.80 L97.02,273.81 L98.21,273.83 L99.40,273.86 L100.59,273.89 L101.78,273.93 L102.97,273.97 L104.16,274.02 L105.35,274.07 L106.54,274.12 L107.73,274.17 L108.92,274.24 L110.11,274.31 L111.30,274.41 L112.49,274.51 L113.68,274.64 L114.87,274.78 L116.06,274.94 L117.25,275.15 L118.43,275.48 L119.62,275.88 L120.81,276.30 L122.00,276.72 L123.19,277.15 L124.38,277.68 L125.57,278.37 L126.76,279.25 L127.95,280.34 L129.14,281.67 L130.33,283.50 L131.52,286.35 L132.71,291.55 L133.90,300.06 L135.09,316.09 L136.28,335.26 L137.47,343.33 L138.66,349.41 L139.85,353.44 L141.04,356.01 L142.23,357.28 L143.42,357.98 L144.61,358.07 L145.80,358.10" stroke="#d8202a" stroke-width="1.55" fill="none" stroke-linejoin="round" stroke-linecap="butt"/>
<path d="M134.10,271.90h15.2" stroke="#ff8a1e" stroke-width="1.3"/>
<text x="151.00" y="273.60" font-size="4.7" fill="#333">PTV</text>
<path d="M134.10,278.05h15.2" stroke="#d8202a" stroke-width="1.3"/>
<text x="151.00" y="279.75" font-size="4.7" fill="#333">GTV</text>
<path d="M134.10,284.20h15.2" stroke="#22bdf0" stroke-width="1.3"/>
<text x="151.00" y="285.90" font-size="4.7" fill="#333">Duodenum</text>
<path d="M134.10,290.35h15.2" stroke="#ff22e0" stroke-width="1.3"/>
<text x="151.00" y="292.05" font-size="4.7" fill="#333">Stomach</text>
<path d="M134.10,296.50h15.2" stroke="#f2c200" stroke-width="1.3"/>
<text x="151.00" y="298.20" font-size="4.7" fill="#333">Bowel</text>
<path d="M230.18,274.60V359.10 M218.20,350.65H338.00 M242.16,274.60V359.10 M218.20,342.20H338.00 M254.14,274.60V359.10 M218.20,333.75H338.00 M266.12,274.60V359.10 M218.20,325.30H338.00 M278.10,274.60V359.10 M218.20,316.85H338.00 M290.08,274.60V359.10 M218.20,308.40H338.00 M302.06,274.60V359.10 M218.20,299.95H338.00 M314.04,274.60V359.10 M218.20,291.50H338.00 M326.02,274.60V359.10 M218.20,283.05H338.00 M338.00,274.60V359.10 M218.20,274.60H338.00" stroke="#e4e4e4" stroke-width="0.5" fill="none"/>
<path d="M218.20,274.60V359.10H338.00" stroke="#6a6a6a" stroke-width="0.6" fill="none"/>
<path d="M218.20,359.10v-1.2 M218.20,359.10h1.2 M230.18,359.10v-1.2 M218.20,350.65h1.2 M242.16,359.10v-1.2 M218.20,342.20h1.2 M254.14,359.10v-1.2 M218.20,333.75h1.2 M266.12,359.10v-1.2 M218.20,325.30h1.2 M278.10,359.10v-1.2 M218.20,316.85h1.2 M290.08,359.10v-1.2 M218.20,308.40h1.2 M302.06,359.10v-1.2 M218.20,299.95h1.2 M314.04,359.10v-1.2 M218.20,291.50h1.2 M326.02,359.10v-1.2 M218.20,283.05h1.2 M338.00,359.10v-1.2 M218.20,274.60h1.2" stroke="#6a6a6a" stroke-width="0.5" fill="none"/>
<text x="216.20" y="360.90" font-size="5.3" text-anchor="end" fill="#333">0</text>
<text x="216.20" y="352.45" font-size="5.3" text-anchor="end" fill="#333">10</text>
<text x="216.20" y="344.00" font-size="5.3" text-anchor="end" fill="#333">20</text>
<text x="216.20" y="335.55" font-size="5.3" text-anchor="end" fill="#333">30</text>
<text x="216.20" y="327.10" font-size="5.3" text-anchor="end" fill="#333">40</text>
<text x="216.20" y="318.65" font-size="5.3" text-anchor="end" fill="#333">50</text>
<text x="216.20" y="310.20" font-size="5.3" text-anchor="end" fill="#333">60</text>
<text x="216.20" y="301.75" font-size="5.3" text-anchor="end" fill="#333">70</text>
<text x="216.20" y="293.30" font-size="5.3" text-anchor="end" fill="#333">80</text>
<text x="216.20" y="284.85" font-size="5.3" text-anchor="end" fill="#333">90</text>
<text x="216.20" y="276.40" font-size="5.3" text-anchor="end" fill="#333">100</text>
<text transform="translate(221.70 365.30) rotate(-45)" font-size="5.2" text-anchor="end" fill="#333">0</text>
<text transform="translate(233.68 365.30) rotate(-45)" font-size="5.2" text-anchor="end" fill="#333">500</text>
<text transform="translate(245.66 365.30) rotate(-45)" font-size="5.2" text-anchor="end" fill="#333">1000</text>
<text transform="translate(257.64 365.30) rotate(-45)" font-size="5.2" text-anchor="end" fill="#333">1500</text>
<text transform="translate(269.62 365.30) rotate(-45)" font-size="5.2" text-anchor="end" fill="#333">2000</text>
<text transform="translate(281.60 365.30) rotate(-45)" font-size="5.2" text-anchor="end" fill="#333">2500</text>
<text transform="translate(293.58 365.30) rotate(-45)" font-size="5.2" text-anchor="end" fill="#333">3000</text>
<text transform="translate(305.56 365.30) rotate(-45)" font-size="5.2" text-anchor="end" fill="#333">3500</text>
<text transform="translate(317.54 365.30) rotate(-45)" font-size="5.2" text-anchor="end" fill="#333">4000</text>
<text transform="translate(329.52 365.30) rotate(-45)" font-size="5.2" text-anchor="end" fill="#333">4500</text>
<text x="278.10" y="381.30" font-size="5.7" text-anchor="middle" fill="#333">Dose (cGy)</text>
<text transform="translate(203.20 316.85) rotate(-90)" font-size="6.0" text-anchor="middle" fill="#333">Relative Volume</text>
<path d="M218.20,274.60 L219.13,281.20 L220.06,285.91 L220.99,290.02 L221.92,294.15 L222.85,297.79 L223.78,300.72 L224.71,303.26 L225.64,305.29 L226.57,306.93 L227.50,308.40 L228.43,309.70 L229.36,310.80 L230.30,311.68 L231.23,312.36 L232.16,312.93 L233.09,313.41 L234.02,313.84 L234.95,314.23 L235.88,314.62 L236.81,314.99 L237.74,315.29 L238.67,315.57 L239.60,315.85 L240.53,316.16 L241.46,316.54 L242.39,317.02 L243.32,317.65 L244.25,318.44 L245.18,319.42 L246.11,320.59 L247.04,321.99 L247.97,324.22 L248.90,327.22 L249.83,330.37 L250.76,334.01 L251.69,337.34 L252.62,339.85 L253.56,342.01 L254.49,343.70 L255.42,344.91 L256.35,345.90 L257.28,346.74 L258.21,347.50 L259.14,348.22 L260.07,348.89 L261.00,349.51 L261.93,350.09 L262.86,350.62 L263.79,351.11 L264.72,351.55 L265.65,351.97 L266.58,352.37 L267.51,352.75 L268.44,353.10 L269.37,353.45 L270.30,353.77 L271.23,354.09 L272.16,354.40 L273.09,354.70 L274.02,354.99 L274.95,355.28 L275.88,355.55 L276.82,355.81 L277.75,356.07 L278.68,356.31 L279.61,356.53 L280.54,356.74 L281.47,356.95 L282.40,357.15 L283.33,357.34 L284.26,357.52 L285.19,357.69 L286.12,357.84 L287.05,357.98 L287.98,358.09 L288.91,358.20 L289.84,358.30 L290.77,358.40 L291.70,358.50 L292.63,358.59 L293.56,358.68 L294.49,358.76 L295.42,358.84 L296.35,358.91 L297.28,358.97 L298.21,359.02 L299.14,359.06 L300.08,359.08 L301.01,359.10" stroke="#22bdf0" stroke-width="1.55" fill="none" stroke-linejoin="round" stroke-linecap="butt"/>
<path d="M218.20,274.60 L219.22,274.60 L220.25,274.60 L221.27,274.60 L222.29,274.60 L223.32,274.80 L224.34,275.43 L225.36,276.25 L226.38,277.01 L227.41,277.59 L228.43,278.12 L229.45,278.64 L230.48,279.16 L231.50,279.72 L232.52,280.34 L233.55,281.05 L234.57,281.82 L235.59,282.61 L236.61,283.38 L237.64,284.07 L238.66,284.66 L239.68,285.22 L240.71,285.78 L241.73,286.43 L242.75,287.16 L243.78,287.91 L244.80,288.78 L245.82,289.85 L246.84,291.25 L247.87,293.69 L248.89,297.50 L249.91,302.71 L250.94,307.62 L251.96,312.10 L252.98,316.30 L254.01,320.45 L255.03,323.99 L256.05,326.59 L257.07,328.78 L258.10,330.69 L259.12,332.43 L260.14,334.07 L261.17,335.58 L262.19,336.99 L263.21,338.32 L264.24,339.59 L265.26,340.83 L266.28,342.04 L267.30,343.21 L268.33,344.34 L269.35,345.40 L270.37,346.37 L271.40,347.26 L272.42,348.08 L273.44,348.86 L274.47,349.59 L275.49,350.28 L276.51,350.94 L277.53,351.58 L278.56,352.19 L279.58,352.78 L280.60,353.36 L281.63,353.90 L282.65,354.42 L283.67,354.89 L284.70,355.32 L285.72,355.72 L286.74,356.11 L287.76,356.47 L288.79,356.80 L289.81,357.09 L290.83,357.34 L291.86,357.54 L292.88,357.73 L293.90,357.91 L294.93,358.08 L295.95,358.23 L296.97,358.37 L297.99,358.50 L299.02,358.60 L300.04,358.69 L301.06,358.77 L302.09,358.83 L303.11,358.89 L304.13,358.95 L305.16,359.00 L306.18,359.04 L307.20,359.07 L308.22,359.09 L309.25,359.10" stroke="#22bdf0" stroke-width="1.55" fill="none" stroke-linejoin="round" stroke-linecap="butt" stroke-dasharray="3.6 2.6"/>
<path d="M218.20,274.60 L218.87,283.68 L219.55,290.08 L220.22,294.14 L220.89,297.69 L221.57,300.35 L222.24,302.16 L222.91,303.61 L223.58,304.81 L224.26,305.82 L224.93,306.65 L225.60,307.41 L226.28,308.24 L226.95,309.18 L227.62,310.15 L228.30,311.15 L228.97,312.21 L229.64,313.34 L230.31,314.55 L230.99,315.88 L231.66,317.41 L232.33,319.08 L233.01,320.81 L233.68,322.53 L234.35,324.21 L235.03,325.89 L235.70,327.60 L236.37,329.33 L237.04,331.12 L237.72,332.97 L238.39,334.92 L239.06,336.87 L239.74,338.75 L240.41,340.62 L241.08,342.47 L241.76,344.09 L242.43,345.31 L243.10,346.34 L243.78,347.25 L244.45,348.06 L245.12,348.77 L245.79,349.42 L246.47,350.00 L247.14,350.53 L247.81,351.02 L248.49,351.47 L249.16,351.90 L249.83,352.32 L250.51,352.73 L251.18,353.14 L251.85,353.53 L252.52,353.91 L253.20,354.28 L253.87,354.63 L254.54,354.95 L255.22,355.25 L255.89,355.52 L256.56,355.79 L257.24,356.05 L257.91,356.30 L258.58,356.53 L259.26,356.75 L259.93,356.96 L260.60,357.14 L261.27,357.31 L261.95,357.45 L262.62,357.59 L263.29,357.71 L263.97,357.83 L264.64,357.94 L265.31,358.04 L265.99,358.13 L266.66,358.22 L267.33,358.30 L268.00,358.37 L268.68,358.44 L269.35,358.50 L270.02,358.57 L270.70,358.63 L271.37,358.69 L272.04,358.75 L272.72,358.80 L273.39,358.86 L274.06,358.90 L274.73,358.95 L275.41,358.99 L276.08,359.02 L276.75,359.06 L277.43,359.08 L278.10,359.10" stroke="#ff22e0" stroke-width="1.55" fill="none" stroke-linejoin="round" stroke-linecap="butt"/>
<path d="M218.20,274.60 L218.93,276.00 L219.65,277.86 L220.38,280.33 L221.11,282.71 L221.83,285.01 L222.56,287.25 L223.29,289.37 L224.02,291.30 L224.74,293.01 L225.47,294.52 L226.20,295.93 L226.92,297.30 L227.65,298.70 L228.38,300.20 L229.10,301.88 L229.83,303.75 L230.56,305.78 L231.28,307.91 L232.01,310.09 L232.74,312.27 L233.46,314.55 L234.19,316.90 L234.92,319.20 L235.65,321.35 L236.37,323.35 L237.10,325.26 L237.83,327.10 L238.55,328.90 L239.28,330.68 L240.01,332.44 L240.73,334.15 L241.46,335.79 L242.19,337.33 L242.91,338.81 L243.64,340.23 L244.37,341.56 L245.09,342.77 L245.82,343.83 L246.55,344.80 L247.28,345.69 L248.00,346.54 L248.73,347.39 L249.46,348.25 L250.18,349.11 L250.91,349.94 L251.64,350.72 L252.36,351.43 L253.09,352.03 L253.82,352.57 L254.54,353.07 L255.27,353.54 L256.00,353.98 L256.72,354.38 L257.45,354.75 L258.18,355.09 L258.91,355.41 L259.63,355.71 L260.36,356.00 L261.09,356.28 L261.81,356.54 L262.54,356.78 L263.27,357.00 L263.99,357.19 L264.72,357.37 L265.45,357.52 L266.17,357.66 L266.90,357.80 L267.63,357.92 L268.35,358.04 L269.08,358.14 L269.81,358.24 L270.54,358.32 L271.26,358.40 L271.99,358.46 L272.72,358.53 L273.44,358.59 L274.17,358.65 L274.90,358.71 L275.62,358.77 L276.35,358.83 L277.08,358.88 L277.80,358.92 L278.53,358.97 L279.26,359.01 L279.98,359.04 L280.71,359.06 L281.44,359.08 L282.17,359.10 L282.89,359.10" stroke="#ff22e0" stroke-width="1.55" fill="none" stroke-linejoin="round" stroke-linecap="butt" stroke-dasharray="3.6 2.6"/>
<path d="M218.20,274.60 L218.82,281.10 L219.44,286.70 L220.06,290.10 L220.68,292.65 L221.30,294.78 L221.92,296.55 L222.53,297.98 L223.15,299.16 L223.77,300.19 L224.39,301.14 L225.01,302.10 L225.63,303.16 L226.25,304.35 L226.87,305.61 L227.49,306.92 L228.11,308.24 L228.73,309.56 L229.35,310.82 L229.96,312.03 L230.58,313.21 L231.20,314.45 L231.82,315.79 L232.44,317.31 L233.06,319.07 L233.68,321.04 L234.30,323.12 L234.92,325.23 L235.54,327.27 L236.16,329.31 L236.78,331.39 L237.39,333.46 L238.01,335.49 L238.63,337.45 L239.25,339.33 L239.87,341.20 L240.49,342.96 L241.11,344.53 L241.73,345.87 L242.35,347.10 L242.97,348.21 L243.59,349.19 L244.21,350.08 L244.83,350.92 L245.44,351.69 L246.06,352.38 L246.68,352.97 L247.30,353.45 L247.92,353.87 L248.54,354.26 L249.16,354.61 L249.78,354.93 L250.40,355.23 L251.02,355.51 L251.64,355.77 L252.26,356.03 L252.87,356.29 L253.49,356.53 L254.11,356.77 L254.73,357.00 L255.35,357.21 L255.97,357.40 L256.59,357.57 L257.21,357.72 L257.83,357.85 L258.45,357.96 L259.07,358.07 L259.69,358.17 L260.30,358.26 L260.92,358.35 L261.54,358.43 L262.16,358.51 L262.78,358.58 L263.40,358.64 L264.02,358.69 L264.64,358.74 L265.26,358.78 L265.88,358.82 L266.50,358.85 L267.12,358.89 L267.74,358.92 L268.35,358.96 L268.97,358.99 L269.59,359.02 L270.21,359.04 L270.83,359.06 L271.45,359.08 L272.07,359.09 L272.69,359.10 L273.31,359.10" stroke="#f2c200" stroke-width="1.55" fill="none" stroke-linejoin="round" stroke-linecap="butt"/>
<path d="M218.20,274.60 L218.85,274.66 L219.49,274.81 L220.14,275.04 L220.78,275.31 L221.43,275.65 L222.08,276.21 L222.72,276.95 L223.37,277.81 L224.02,278.71 L224.66,279.68 L225.31,280.79 L225.95,282.02 L226.60,283.36 L227.25,284.78 L227.89,286.36 L228.54,288.16 L229.18,290.05 L229.83,291.85 L230.48,293.49 L231.12,295.10 L231.77,296.81 L232.41,298.74 L233.06,300.99 L233.71,303.46 L234.35,306.04 L235.00,308.62 L235.65,311.26 L236.29,313.96 L236.94,316.69 L237.58,319.43 L238.23,322.23 L238.88,325.03 L239.52,327.72 L240.17,330.25 L240.81,332.69 L241.46,335.01 L242.11,337.19 L242.75,339.26 L243.40,341.24 L244.04,343.05 L244.69,344.62 L245.34,346.02 L245.98,347.28 L246.63,348.39 L247.28,349.35 L247.92,350.21 L248.57,350.99 L249.21,351.69 L249.86,352.34 L250.51,352.94 L251.15,353.51 L251.80,354.04 L252.44,354.52 L253.09,354.95 L253.74,355.32 L254.38,355.66 L255.03,355.98 L255.67,356.27 L256.32,356.55 L256.97,356.80 L257.61,357.03 L258.26,357.23 L258.91,357.40 L259.55,357.55 L260.20,357.69 L260.84,357.82 L261.49,357.94 L262.14,358.05 L262.78,358.15 L263.43,358.25 L264.07,358.33 L264.72,358.40 L265.37,358.46 L266.01,358.52 L266.66,358.58 L267.30,358.64 L267.95,358.70 L268.60,358.75 L269.24,358.81 L269.89,358.86 L270.54,358.90 L271.18,358.95 L271.83,358.98 L272.47,359.02 L273.12,359.05 L273.77,359.07 L274.41,359.09 L275.06,359.10 L275.70,359.10" stroke="#f2c200" stroke-width="1.55" fill="none" stroke-linejoin="round" stroke-linecap="butt" stroke-dasharray="3.6 2.6"/>
<path d="M218.20,274.60 L219.38,274.60 L220.57,274.60 L221.75,274.60 L222.94,274.60 L224.12,274.60 L225.31,274.60 L226.49,274.60 L227.68,274.60 L228.86,274.60 L230.05,274.60 L231.23,274.60 L232.41,274.60 L233.60,274.60 L234.78,274.60 L235.97,274.60 L237.15,274.60 L238.34,274.60 L239.52,274.60 L240.71,274.60 L241.89,274.60 L243.08,274.60 L244.26,274.60 L245.44,274.60 L246.63,274.60 L247.81,274.60 L249.00,274.62 L250.18,274.66 L251.37,274.70 L252.55,274.75 L253.74,274.81 L254.92,274.86 L256.11,274.92 L257.29,274.97 L258.47,275.03 L259.66,275.09 L260.84,275.16 L262.03,275.23 L263.21,275.31 L264.40,275.40 L265.58,275.49 L266.77,275.61 L267.95,275.74 L269.14,275.88 L270.32,276.04 L271.50,276.20 L272.69,276.37 L273.87,276.55 L275.06,276.74 L276.24,276.95 L277.43,277.19 L278.61,277.47 L279.80,277.81 L280.98,278.22 L282.17,278.68 L283.35,279.19 L284.53,279.74 L285.72,280.31 L286.90,280.89 L288.09,281.52 L289.27,282.20 L290.46,282.92 L291.64,283.70 L292.83,284.53 L294.01,285.42 L295.20,286.36 L296.38,287.42 L297.56,288.59 L298.75,289.87 L299.93,291.27 L301.12,292.85 L302.30,294.60 L303.49,296.50 L304.67,298.51 L305.86,300.70 L307.04,303.13 L308.22,305.82 L309.41,308.87 L310.59,312.60 L311.78,317.51 L312.96,324.22 L314.15,334.12 L315.33,342.58 L316.52,348.96 L317.70,353.59 L318.89,356.44 L320.07,358.00 L321.25,358.91 L322.44,359.07 L323.62,359.10" stroke="#ff8a1e" stroke-width="1.55" fill="none" stroke-linejoin="round" stroke-linecap="butt"/>
<path d="M218.20,274.60 L219.39,274.60 L220.58,274.60 L221.77,274.60 L222.96,274.60 L224.15,274.60 L225.34,274.60 L226.53,274.60 L227.72,274.60 L228.91,274.60 L230.10,274.60 L231.29,274.60 L232.48,274.60 L233.67,274.60 L234.86,274.60 L236.05,274.60 L237.24,274.60 L238.43,274.60 L239.62,274.60 L240.81,274.60 L242.00,274.60 L243.19,274.60 L244.38,274.60 L245.57,274.60 L246.76,274.60 L247.95,274.60 L249.14,274.60 L250.33,274.60 L251.52,274.60 L252.71,274.60 L253.90,274.60 L255.09,274.60 L256.28,274.60 L257.47,274.60 L258.66,274.60 L259.85,274.60 L261.04,274.60 L262.23,274.60 L263.42,274.60 L264.61,274.60 L265.80,274.60 L266.99,274.60 L268.18,274.60 L269.37,274.60 L270.56,274.60 L271.75,274.60 L272.94,274.60 L274.13,274.60 L275.32,274.61 L276.51,274.63 L277.70,274.66 L278.89,274.69 L280.08,274.73 L281.27,274.77 L282.46,274.82 L283.65,274.87 L284.84,274.92 L286.03,274.97 L287.22,275.04 L288.41,275.12 L289.60,275.21 L290.79,275.31 L291.98,275.44 L293.17,275.58 L294.36,275.74 L295.55,275.95 L296.73,276.28 L297.92,276.68 L299.11,277.11 L300.30,277.53 L301.49,277.96 L302.68,278.49 L303.87,279.18 L305.06,280.06 L306.25,281.16 L307.44,282.49 L308.63,284.32 L309.82,287.18 L311.01,292.39 L312.20,300.92 L313.39,316.99 L314.58,336.20 L315.77,344.29 L316.96,350.39 L318.15,354.43 L319.34,357.01 L320.53,358.28 L321.72,358.98 L322.91,359.07 L324.10,359.10" stroke="#d8202a" stroke-width="1.55" fill="none" stroke-linejoin="round" stroke-linecap="butt"/>
<path d="M312.10,271.00h15.2" stroke="#ff8a1e" stroke-width="1.3"/>
<text x="329.00" y="272.70" font-size="4.7" fill="#333">PTV</text>
<path d="M312.10,277.52h15.2" stroke="#d8202a" stroke-width="1.3"/>
<text x="329.00" y="279.22" font-size="4.7" fill="#333">GTV</text>
<path d="M312.10,284.04h15.2" stroke="#22bdf0" stroke-width="1.3"/>
<text x="329.00" y="285.74" font-size="4.7" fill="#333">Duodenum</text>
<path d="M312.10,290.56h15.2" stroke="#ff22e0" stroke-width="1.3"/>
<text x="329.00" y="292.26" font-size="4.7" fill="#333">Stomach</text>
<path d="M312.10,297.08h15.2" stroke="#f2c200" stroke-width="1.3"/>
<text x="329.00" y="298.78" font-size="4.7" fill="#333">Bowel</text>
<path d="M407.98,273.60V358.80 M396.00,350.28H515.80 M419.96,273.60V358.80 M396.00,341.76H515.80 M431.94,273.60V358.80 M396.00,333.24H515.80 M443.92,273.60V358.80 M396.00,324.72H515.80 M455.90,273.60V358.80 M396.00,316.20H515.80 M467.88,273.60V358.80 M396.00,307.68H515.80 M479.86,273.60V358.80 M396.00,299.16H515.80 M491.84,273.60V358.80 M396.00,290.64H515.80 M503.82,273.60V358.80 M396.00,282.12H515.80 M515.80,273.60V358.80 M396.00,273.60H515.80" stroke="#e4e4e4" stroke-width="0.5" fill="none"/>
<path d="M396.00,273.60V358.80H515.80" stroke="#6a6a6a" stroke-width="0.6" fill="none"/>
<path d="M396.00,358.80v-1.2 M396.00,358.80h1.2 M407.98,358.80v-1.2 M396.00,350.28h1.2 M419.96,358.80v-1.2 M396.00,341.76h1.2 M431.94,358.80v-1.2 M396.00,333.24h1.2 M443.92,358.80v-1.2 M396.00,324.72h1.2 M455.90,358.80v-1.2 M396.00,316.20h1.2 M467.88,358.80v-1.2 M396.00,307.68h1.2 M479.86,358.80v-1.2 M396.00,299.16h1.2 M491.84,358.80v-1.2 M396.00,290.64h1.2 M503.82,358.80v-1.2 M396.00,282.12h1.2 M515.80,358.80v-1.2 M396.00,273.60h1.2" stroke="#6a6a6a" stroke-width="0.5" fill="none"/>
<text x="394.00" y="360.60" font-size="5.3" text-anchor="end" fill="#333">0</text>
<text x="394.00" y="352.08" font-size="5.3" text-anchor="end" fill="#333">10</text>
<text x="394.00" y="343.56" font-size="5.3" text-anchor="end" fill="#333">20</text>
<text x="394.00" y="335.04" font-size="5.3" text-anchor="end" fill="#333">30</text>
<text x="394.00" y="326.52" font-size="5.3" text-anchor="end" fill="#333">40</text>
<text x="394.00" y="318.00" font-size="5.3" text-anchor="end" fill="#333">50</text>
<text x="394.00" y="309.48" font-size="5.3" text-anchor="end" fill="#333">60</text>
<text x="394.00" y="300.96" font-size="5.3" text-anchor="end" fill="#333">70</text>
<text x="394.00" y="292.44" font-size="5.3" text-anchor="end" fill="#333">80</text>
<text x="394.00" y="283.92" font-size="5.3" text-anchor="end" fill="#333">90</text>
<text x="394.00" y="275.40" font-size="5.3" text-anchor="end" fill="#333">100</text>
<text transform="translate(399.50 365.00) rotate(-45)" font-size="5.2" text-anchor="end" fill="#333">0</text>
<text transform="translate(411.48 365.00) rotate(-45)" font-size="5.2" text-anchor="end" fill="#333">500</text>
<text transform="translate(423.46 365.00) rotate(-45)" font-size="5.2" text-anchor="end" fill="#333">1000</text>
<text transform="translate(435.44 365.00) rotate(-45)" font-size="5.2" text-anchor="end" fill="#333">1500</text>
<text transform="translate(447.42 365.00) rotate(-45)" font-size="5.2" text-anchor="end" fill="#333">2000</text>
<text transform="translate(459.40 365.00) rotate(-45)" font-size="5.2" text-anchor="end" fill="#333">2500</text>
<text transform="translate(471.38 365.00) rotate(-45)" font-size="5.2" text-anchor="end" fill="#333">3000</text>
<text transform="translate(483.36 365.00) rotate(-45)" font-size="5.2" text-anchor="end" fill="#333">3500</text>
<text transform="translate(495.34 365.00) rotate(-45)" font-size="5.2" text-anchor="end" fill="#333">4000</text>
<text transform="translate(507.32 365.00) rotate(-45)" font-size="5.2" text-anchor="end" fill="#333">4500</text>
<text x="455.90" y="381.00" font-size="5.7" text-anchor="middle" fill="#333">Dose (cGy)</text>
<text transform="translate(381.00 316.20) rotate(-90)" font-size="6.0" text-anchor="middle" fill="#333">Relative Volume</text>
<path d="M396.00,273.60 L396.93,280.25 L397.86,285.00 L398.79,289.15 L399.72,293.31 L400.65,296.98 L401.58,299.93 L402.51,302.49 L403.44,304.55 L404.37,306.20 L405.30,307.68 L406.23,308.99 L407.16,310.10 L408.10,310.99 L409.03,311.67 L409.96,312.24 L410.89,312.73 L411.82,313.17 L412.75,313.56 L413.68,313.95 L414.61,314.32 L415.54,314.63 L416.47,314.91 L417.40,315.19 L418.33,315.50 L419.26,315.89 L420.19,316.37 L421.12,317.00 L422.05,317.80 L422.98,318.79 L423.91,319.98 L424.84,321.38 L425.77,323.63 L426.70,326.65 L427.63,329.83 L428.56,333.50 L429.49,336.86 L430.42,339.39 L431.36,341.57 L432.29,343.27 L433.22,344.49 L434.15,345.49 L435.08,346.34 L436.01,347.10 L436.94,347.83 L437.87,348.51 L438.80,349.14 L439.73,349.72 L440.66,350.25 L441.59,350.74 L442.52,351.19 L443.45,351.62 L444.38,352.02 L445.31,352.40 L446.24,352.76 L447.17,353.10 L448.10,353.43 L449.03,353.75 L449.96,354.06 L450.89,354.36 L451.82,354.66 L452.75,354.95 L453.68,355.22 L454.62,355.49 L455.55,355.74 L456.48,355.98 L457.41,356.21 L458.34,356.42 L459.27,356.63 L460.20,356.83 L461.13,357.02 L462.06,357.21 L462.99,357.38 L463.92,357.53 L464.85,357.67 L465.78,357.78 L466.71,357.89 L467.64,357.99 L468.57,358.09 L469.50,358.19 L470.43,358.29 L471.36,358.38 L472.29,358.46 L473.22,358.54 L474.15,358.60 L475.08,358.66 L476.01,358.71 L476.94,358.75 L477.88,358.78 L478.81,358.80" stroke="#22bdf0" stroke-width="1.55" fill="none" stroke-linejoin="round" stroke-linecap="butt"/>
<path d="M396.00,273.60 L397.00,273.60 L397.99,273.60 L398.99,273.60 L399.98,273.66 L400.98,274.23 L401.98,274.93 L402.97,275.61 L403.97,276.36 L404.96,277.15 L405.96,277.96 L406.96,278.75 L407.95,279.49 L408.95,280.16 L409.95,280.77 L410.94,281.35 L411.94,281.91 L412.93,282.47 L413.93,283.03 L414.93,283.61 L415.92,284.23 L416.92,284.89 L417.91,285.53 L418.91,286.17 L419.91,286.85 L420.90,287.60 L421.90,288.46 L422.89,289.48 L423.89,290.78 L424.89,292.59 L425.88,294.75 L426.88,297.31 L427.87,300.42 L428.87,304.13 L429.87,308.42 L430.86,312.55 L431.86,316.62 L432.86,320.34 L433.85,323.50 L434.85,326.37 L435.84,328.90 L436.84,331.07 L437.84,332.97 L438.83,334.67 L439.83,336.25 L440.82,337.75 L441.82,339.15 L442.82,340.45 L443.81,341.64 L444.81,342.72 L445.80,343.71 L446.80,344.64 L447.80,345.53 L448.79,346.39 L449.79,347.24 L450.78,348.09 L451.78,348.92 L452.78,349.73 L453.77,350.51 L454.77,351.23 L455.77,351.90 L456.76,352.51 L457.76,353.10 L458.75,353.66 L459.75,354.18 L460.75,354.66 L461.74,355.11 L462.74,355.51 L463.73,355.88 L464.73,356.24 L465.73,356.57 L466.72,356.87 L467.72,357.14 L468.71,357.38 L469.71,357.59 L470.71,357.79 L471.70,357.97 L472.70,358.14 L473.70,358.28 L474.69,358.39 L475.69,358.47 L476.68,358.53 L477.68,358.58 L478.68,358.64 L479.67,358.68 L480.67,358.72 L481.66,358.76 L482.66,358.78 L483.66,358.79 L484.65,358.80" stroke="#22bdf0" stroke-width="1.55" fill="none" stroke-linejoin="round" stroke-linecap="butt" stroke-dasharray="3.6 2.6"/>
<path d="M396.00,273.60 L396.67,282.76 L397.35,289.21 L398.02,293.31 L398.69,296.89 L399.37,299.57 L400.04,301.39 L400.71,302.85 L401.38,304.06 L402.06,305.08 L402.73,305.91 L403.40,306.68 L404.08,307.52 L404.75,308.47 L405.42,309.44 L406.10,310.45 L406.77,311.52 L407.44,312.66 L408.11,313.88 L408.79,315.22 L409.46,316.76 L410.13,318.44 L410.81,320.19 L411.48,321.93 L412.15,323.62 L412.83,325.32 L413.50,327.04 L414.17,328.79 L414.84,330.58 L415.52,332.46 L416.19,334.42 L416.86,336.39 L417.54,338.28 L418.21,340.16 L418.88,342.04 L419.56,343.67 L420.23,344.89 L420.90,345.93 L421.58,346.85 L422.25,347.66 L422.92,348.39 L423.59,349.04 L424.27,349.63 L424.94,350.16 L425.61,350.65 L426.29,351.11 L426.96,351.54 L427.63,351.96 L428.31,352.38 L428.98,352.79 L429.65,353.18 L430.32,353.57 L431.00,353.94 L431.67,354.29 L432.34,354.62 L433.02,354.92 L433.69,355.19 L434.36,355.46 L435.04,355.72 L435.71,355.98 L436.38,356.21 L437.06,356.43 L437.73,356.64 L438.40,356.83 L439.07,356.99 L439.75,357.14 L440.42,357.27 L441.09,357.40 L441.77,357.52 L442.44,357.63 L443.11,357.73 L443.79,357.82 L444.46,357.91 L445.13,357.99 L445.80,358.07 L446.48,358.13 L447.15,358.20 L447.82,358.26 L448.50,358.33 L449.17,358.39 L449.84,358.45 L450.52,358.50 L451.19,358.55 L451.86,358.60 L452.53,358.65 L453.21,358.69 L453.88,358.72 L454.55,358.76 L455.23,358.78 L455.90,358.80" stroke="#ff22e0" stroke-width="1.55" fill="none" stroke-linejoin="round" stroke-linecap="butt"/>
<path d="M396.00,273.60 L396.73,273.60 L397.45,273.60 L398.18,273.60 L398.91,273.60 L399.63,273.90 L400.36,274.61 L401.09,275.53 L401.82,276.49 L402.54,277.42 L403.27,278.48 L404.00,279.65 L404.72,280.89 L405.45,282.19 L406.18,283.52 L406.90,284.86 L407.63,286.23 L408.36,287.65 L409.08,289.12 L409.81,290.65 L410.54,292.23 L411.26,293.86 L411.99,295.54 L412.72,297.25 L413.45,299.02 L414.17,300.86 L414.90,302.78 L415.63,304.79 L416.35,306.91 L417.08,309.24 L417.81,311.89 L418.53,314.59 L419.26,317.03 L419.99,319.28 L420.71,321.43 L421.44,323.57 L422.17,325.76 L422.89,327.98 L423.62,330.15 L424.35,332.19 L425.08,334.03 L425.80,335.73 L426.53,337.32 L427.26,338.84 L427.98,340.29 L428.71,341.71 L429.44,343.11 L430.16,344.46 L430.89,345.71 L431.62,346.84 L432.34,347.84 L433.07,348.76 L433.80,349.61 L434.52,350.40 L435.25,351.12 L435.98,351.76 L436.71,352.33 L437.43,352.87 L438.16,353.39 L438.89,353.87 L439.61,354.32 L440.34,354.73 L441.07,355.11 L441.79,355.45 L442.52,355.74 L443.25,356.00 L443.97,356.24 L444.70,356.46 L445.43,356.67 L446.15,356.86 L446.88,357.04 L447.61,357.20 L448.34,357.34 L449.06,357.47 L449.79,357.59 L450.52,357.71 L451.24,357.82 L451.97,357.93 L452.70,358.04 L453.42,358.15 L454.15,358.25 L454.88,358.34 L455.60,358.43 L456.33,358.51 L457.06,358.58 L457.78,358.65 L458.51,358.70 L459.24,358.74 L459.97,358.78 L460.69,358.80" stroke="#ff22e0" stroke-width="1.55" fill="none" stroke-linejoin="round" stroke-linecap="butt" stroke-dasharray="3.6 2.6"/>
<path d="M396.00,273.60 L396.62,280.15 L397.24,285.80 L397.86,289.23 L398.48,291.80 L399.10,293.94 L399.72,295.73 L400.33,297.18 L400.95,298.37 L401.57,299.40 L402.19,300.36 L402.81,301.33 L403.43,302.39 L404.05,303.60 L404.67,304.87 L405.29,306.19 L405.91,307.52 L406.53,308.85 L407.15,310.12 L407.76,311.34 L408.38,312.53 L409.00,313.78 L409.62,315.13 L410.24,316.66 L410.86,318.44 L411.48,320.43 L412.10,322.52 L412.72,324.65 L413.34,326.71 L413.96,328.76 L414.58,330.86 L415.19,332.95 L415.81,335.00 L416.43,336.97 L417.05,338.87 L417.67,340.75 L418.29,342.53 L418.91,344.11 L419.53,345.46 L420.15,346.70 L420.77,347.81 L421.39,348.81 L422.01,349.70 L422.63,350.55 L423.24,351.33 L423.86,352.03 L424.48,352.62 L425.10,353.10 L425.72,353.53 L426.34,353.92 L426.96,354.27 L427.58,354.60 L428.20,354.90 L428.82,355.18 L429.44,355.45 L430.06,355.71 L430.67,355.96 L431.29,356.21 L431.91,356.45 L432.53,356.68 L433.15,356.89 L433.77,357.09 L434.39,357.26 L435.01,357.41 L435.63,357.54 L436.25,357.65 L436.87,357.76 L437.49,357.86 L438.10,357.96 L438.72,358.05 L439.34,358.13 L439.96,358.20 L440.58,358.27 L441.20,358.33 L441.82,358.39 L442.44,358.44 L443.06,358.48 L443.68,358.51 L444.30,358.55 L444.92,358.59 L445.54,358.62 L446.15,358.66 L446.77,358.69 L447.39,358.71 L448.01,358.74 L448.63,358.76 L449.25,358.78 L449.87,358.79 L450.49,358.80 L451.11,358.80" stroke="#f2c200" stroke-width="1.55" fill="none" stroke-linejoin="round" stroke-linecap="butt"/>
<path d="M396.00,273.60 L396.57,273.60 L397.13,273.60 L397.70,273.60 L398.26,273.60 L398.83,273.73 L399.39,274.22 L399.96,274.91 L400.52,275.67 L401.09,276.74 L401.65,278.06 L402.22,279.54 L402.78,281.08 L403.35,282.55 L403.91,283.90 L404.48,285.22 L405.05,286.52 L405.61,287.83 L406.18,289.15 L406.74,290.51 L407.31,291.91 L407.87,293.37 L408.44,294.91 L409.00,296.56 L409.57,298.34 L410.13,300.18 L410.70,302.05 L411.26,303.90 L411.83,305.71 L412.40,307.59 L412.96,309.59 L413.53,311.83 L414.09,314.43 L414.66,317.31 L415.22,320.32 L415.79,323.30 L416.35,326.11 L416.92,328.67 L417.48,331.18 L418.05,333.62 L418.61,335.95 L419.18,338.11 L419.74,340.04 L420.31,341.74 L420.88,343.35 L421.44,344.82 L422.01,346.14 L422.57,347.27 L423.14,348.20 L423.70,349.00 L424.27,349.73 L424.83,350.38 L425.40,350.97 L425.96,351.54 L426.53,352.08 L427.09,352.61 L427.66,353.13 L428.22,353.62 L428.79,354.08 L429.36,354.51 L429.92,354.91 L430.49,355.25 L431.05,355.55 L431.62,355.84 L432.18,356.11 L432.75,356.37 L433.31,356.61 L433.88,356.83 L434.44,357.03 L435.01,357.21 L435.57,357.37 L436.14,357.50 L436.71,357.61 L437.27,357.72 L437.84,357.83 L438.40,357.94 L438.97,358.04 L439.53,358.14 L440.10,358.23 L440.66,358.32 L441.23,358.41 L441.79,358.48 L442.36,358.55 L442.92,358.61 L443.49,358.67 L444.05,358.71 L444.62,358.75 L445.19,358.78 L445.75,358.79 L446.32,358.80" stroke="#f2c200" stroke-width="1.55" fill="none" stroke-linejoin="round" stroke-linecap="butt" stroke-dasharray="3.6 2.6"/>
<path d="M396.00,273.60 L397.18,273.60 L398.37,273.60 L399.55,273.60 L400.74,273.60 L401.92,273.60 L403.11,273.60 L404.29,273.60 L405.48,273.60 L406.66,273.60 L407.85,273.60 L409.03,273.60 L410.21,273.60 L411.40,273.60 L412.58,273.60 L413.77,273.60 L414.95,273.60 L416.14,273.60 L417.32,273.60 L418.51,273.60 L419.69,273.60 L420.88,273.60 L422.06,273.60 L423.24,273.60 L424.43,273.60 L425.61,273.60 L426.80,273.62 L427.98,273.66 L429.17,273.70 L430.35,273.75 L431.54,273.81 L432.72,273.86 L433.91,273.92 L435.09,273.98 L436.27,274.03 L437.46,274.10 L438.64,274.16 L439.83,274.24 L441.01,274.32 L442.20,274.40 L443.38,274.50 L444.57,274.62 L445.75,274.75 L446.94,274.90 L448.12,275.05 L449.30,275.22 L450.49,275.39 L451.67,275.57 L452.86,275.76 L454.04,275.97 L455.23,276.21 L456.41,276.49 L457.60,276.84 L458.78,277.25 L459.97,277.72 L461.15,278.23 L462.33,278.78 L463.52,279.35 L464.70,279.95 L465.89,280.58 L467.07,281.26 L468.26,281.99 L469.44,282.78 L470.63,283.62 L471.81,284.51 L473.00,285.46 L474.18,286.52 L475.36,287.70 L476.55,289.00 L477.73,290.41 L478.92,292.00 L480.10,293.77 L481.29,295.68 L482.47,297.71 L483.66,299.91 L484.84,302.36 L486.02,305.08 L487.21,308.15 L488.39,311.91 L489.58,316.87 L490.76,323.63 L491.95,333.61 L493.13,342.14 L494.32,348.58 L495.50,353.24 L496.69,356.12 L497.87,357.69 L499.05,358.61 L500.24,358.77 L501.42,358.80" stroke="#ff8a1e" stroke-width="1.55" fill="none" stroke-linejoin="round" stroke-linecap="butt"/>
<path d="M396.00,273.60 L397.19,273.60 L398.38,273.60 L399.57,273.60 L400.76,273.60 L401.95,273.60 L403.14,273.60 L404.33,273.60 L405.52,273.60 L406.71,273.60 L407.90,273.60 L409.09,273.60 L410.28,273.60 L411.47,273.60 L412.66,273.60 L413.85,273.60 L415.04,273.60 L416.23,273.60 L417.42,273.60 L418.61,273.60 L419.80,273.60 L420.99,273.60 L422.18,273.60 L423.37,273.60 L424.56,273.60 L425.75,273.60 L426.94,273.60 L428.13,273.60 L429.32,273.60 L430.51,273.60 L431.70,273.60 L432.89,273.60 L434.08,273.60 L435.27,273.60 L436.46,273.60 L437.65,273.60 L438.84,273.60 L440.03,273.60 L441.22,273.60 L442.41,273.60 L443.60,273.60 L444.79,273.60 L445.98,273.60 L447.17,273.60 L448.36,273.60 L449.55,273.60 L450.74,273.60 L451.93,273.60 L453.12,273.61 L454.31,273.63 L455.50,273.66 L456.69,273.69 L457.88,273.73 L459.07,273.77 L460.26,273.82 L461.45,273.87 L462.64,273.92 L463.83,273.98 L465.02,274.04 L466.21,274.12 L467.40,274.21 L468.59,274.32 L469.78,274.44 L470.97,274.59 L472.16,274.75 L473.35,274.96 L474.53,275.29 L475.72,275.70 L476.91,276.13 L478.10,276.55 L479.29,276.99 L480.48,277.52 L481.67,278.22 L482.86,279.11 L484.05,280.21 L485.24,281.55 L486.43,283.40 L487.62,286.28 L488.81,291.54 L490.00,300.14 L491.19,316.34 L492.38,335.71 L493.57,343.87 L494.76,350.02 L495.95,354.09 L497.14,356.69 L498.33,357.97 L499.52,358.68 L500.71,358.77 L501.90,358.80" stroke="#d8202a" stroke-width="1.55" fill="none" stroke-linejoin="round" stroke-linecap="butt"/>
<path d="M490.80,271.30h15.2" stroke="#ff8a1e" stroke-width="1.3"/>
<text x="507.40" y="273.00" font-size="4.7" fill="#333">PTV</text>
<path d="M490.80,277.50h15.2" stroke="#d8202a" stroke-width="1.3"/>
<text x="507.40" y="279.20" font-size="4.7" fill="#333">GTV</text>
<path d="M490.80,283.70h15.2" stroke="#22bdf0" stroke-width="1.3"/>
<text x="507.40" y="285.40" font-size="4.7" fill="#333">Duodenum</text>
<path d="M490.80,289.90h15.2" stroke="#ff22e0" stroke-width="1.3"/>
<text x="507.40" y="291.60" font-size="4.7" fill="#333">Stomach</text>
<path d="M490.80,296.10h15.2" stroke="#f2c200" stroke-width="1.3"/>
<text x="507.40" y="297.80" font-size="4.7" fill="#333">Bowel</text>
<text transform="translate(17.0 74.2) rotate(-90)" x="-28.2" y="0" font-size="10.4" fill="#111" stroke="#111" stroke-width="0.2" textLength="56.4" lengthAdjust="spacingAndGlyphs">DIBH CT Scan</text>
<text transform="translate(16.3 206.5) rotate(-90)" x="-42.35" y="0" font-size="10.4" fill="#111" stroke="#111" stroke-width="0.2" textLength="84.7" lengthAdjust="spacingAndGlyphs">DIBH Difference Map</text>
<text transform="translate(15.6 323.8) rotate(-90)" x="-23.75" y="0" font-size="10.4" fill="#111" stroke="#111" stroke-width="0.2" textLength="47.5" lengthAdjust="spacingAndGlyphs">DVH Curves</text>
<text x="20.6" y="17.1" font-size="10.2" fill="#fff" text-anchor="start" textLength="5.8" lengthAdjust="spacingAndGlyphs">A</text>
<text x="191.4" y="17.1" font-size="9.8" fill="#fff" text-anchor="start" textLength="5.0" lengthAdjust="spacingAndGlyphs">B</text>
<text x="371.4" y="16.9" font-size="9.8" fill="#fff" text-anchor="start" textLength="5.5" lengthAdjust="spacingAndGlyphs">C</text>
<text x="59.0" y="23.9" font-size="9.6" fill="#fff" text-anchor="start" textLength="70.7" lengthAdjust="spacingAndGlyphs">DIBH 1 vs DIBH 2</text>
<text x="235.1" y="23.9" font-size="9.6" fill="#fff" text-anchor="start" textLength="70.4" lengthAdjust="spacingAndGlyphs">DIBH 1 vs DIBH 3</text>
<text x="413.1" y="23.9" font-size="9.6" fill="#fff" text-anchor="start" textLength="70.7" lengthAdjust="spacingAndGlyphs">DIBH 1 vs DIBH 4</text>
<path d="M141.7,19.60H154.8" stroke="#b06a1c" stroke-width="0.7"/>
<text x="160.9" y="21.60" font-size="5.6" fill="#f4f4f4">PTV</text>
<path d="M141.7,25.90H154.8" stroke="#8e1820" stroke-width="0.7"/>
<text x="160.9" y="27.90" font-size="5.6" fill="#f4f4f4">GTV</text>
<path d="M141.7,32.20H154.8" stroke="#129a9e" stroke-width="0.7"/>
<text x="160.9" y="34.20" font-size="5.6" fill="#f4f4f4">Duodenum</text>
<path d="M141.7,38.50H154.8" stroke="#a014a0" stroke-width="0.7"/>
<text x="160.9" y="40.50" font-size="5.6" fill="#f4f4f4">Stomach</text>
<path d="M141.7,44.80H154.8" stroke="#5a5630" stroke-width="0.7"/>
<text x="160.9" y="46.80" font-size="5.6" fill="#f4f4f4">Bowel</text>
<path d="M320.2,20.00H333.3" stroke="#b06a1c" stroke-width="0.7"/>
<text x="339.8" y="22.00" font-size="5.6" fill="#f4f4f4">PTV</text>
<path d="M320.2,26.30H333.3" stroke="#8e1820" stroke-width="0.7"/>
<text x="339.8" y="28.30" font-size="5.6" fill="#f4f4f4">GTV</text>
<path d="M320.2,32.60H333.3" stroke="#129a9e" stroke-width="0.7"/>
<text x="339.8" y="34.60" font-size="5.6" fill="#f4f4f4">Duodenum</text>
<path d="M320.2,38.90H333.3" stroke="#a014a0" stroke-width="0.7"/>
<text x="339.8" y="40.90" font-size="5.6" fill="#f4f4f4">Stomach</text>
<path d="M320.2,45.20H333.3" stroke="#5a5630" stroke-width="0.7"/>
<text x="339.8" y="47.20" font-size="5.6" fill="#f4f4f4">Bowel</text>
<path d="M491.7,18.20H503.9" stroke="#b06a1c" stroke-width="0.7"/>
<text x="510.5" y="20.20" font-size="5.6" fill="#f4f4f4">PTV</text>
<path d="M491.7,24.50H503.9" stroke="#8e1820" stroke-width="0.7"/>
<text x="510.5" y="26.50" font-size="5.6" fill="#f4f4f4">GTV</text>
<path d="M491.7,30.80H503.9" stroke="#129a9e" stroke-width="0.7"/>
<text x="510.5" y="32.80" font-size="5.6" fill="#f4f4f4">Duodenum</text>
<path d="M491.7,37.10H503.9" stroke="#a014a0" stroke-width="0.7"/>
<text x="510.5" y="39.10" font-size="5.6" fill="#f4f4f4">Stomach</text>
<path d="M491.7,43.40H503.9" stroke="#5a5630" stroke-width="0.7"/>
<text x="510.5" y="45.40" font-size="5.6" fill="#f4f4f4">Bowel</text>
<text x="19.6" y="157.7" font-size="9.4" fill="#000" text-anchor="start" textLength="5.8" lengthAdjust="spacingAndGlyphs" stroke="#000" stroke-width="0.2">D</text>
<text x="192.9" y="157.8" font-size="9.6" fill="#000" text-anchor="start" textLength="4.4" lengthAdjust="spacingAndGlyphs" stroke="#000" stroke-width="0.2">E</text>
<text x="385.6" y="155.3" font-size="9.0" fill="#000" text-anchor="start" textLength="3.8" lengthAdjust="spacingAndGlyphs" stroke="#000" stroke-width="0.2">F</text>
<text x="19.6" y="275.9" font-size="9.6" fill="#000" text-anchor="start" textLength="6.0" lengthAdjust="spacingAndGlyphs" stroke="#000" stroke-width="0.2">G</text>
<text x="192.9" y="280.4" font-size="9.0" fill="#000" text-anchor="start" textLength="5.3" lengthAdjust="spacingAndGlyphs" stroke="#000" stroke-width="0.2">H</text>
<text x="372.7" y="278.0" font-size="8.6" fill="#000" text-anchor="start" font-weight="bold">I</text>
<defs><linearGradient id="bwr" x1="0" y1="0" x2="0" y2="1"><stop offset="0" stop-color="#f01010"/><stop offset="0.5" stop-color="#ffffff"/><stop offset="1" stop-color="#1010f0"/></linearGradient></defs>
<rect x="166.05" y="148.2" width="6.05" height="114.60" fill="url(#bwr)"/>
<text x="176.80" y="151.75" font-size="5.15" fill="#222">300</text>
<text x="176.80" y="170.52" font-size="5.15" fill="#222">200</text>
<text x="176.80" y="189.28" font-size="5.15" fill="#222">100</text>
<text x="176.80" y="208.05" font-size="5.15" fill="#222">0</text>
<text x="176.10" y="226.82" font-size="5.15" fill="#222">-<tspan dx="1">100</tspan></text>
<text x="176.10" y="245.58" font-size="5.15" fill="#222">-<tspan dx="1">200</tspan></text>
<text x="176.10" y="264.35" font-size="5.15" fill="#222">-<tspan dx="1">300</tspan></text>
<rect x="358.8" y="148.1" width="6.20" height="114.80" fill="url(#bwr)"/>
<text x="369.90" y="152.25" font-size="5.15" fill="#222">300</text>
<text x="369.90" y="171.05" font-size="5.15" fill="#222">200</text>
<text x="369.90" y="189.85" font-size="5.15" fill="#222">100</text>
<text x="369.90" y="208.65" font-size="5.15" fill="#222">0</text>
<text x="369.20" y="227.45" font-size="5.15" fill="#222">-<tspan dx="1">100</tspan></text>
<text x="369.20" y="246.25" font-size="5.15" fill="#222">-<tspan dx="1">200</tspan></text>
<text x="369.20" y="265.05" font-size="5.15" fill="#222">-<tspan dx="1">300</tspan></text>
<rect x="525.3" y="148.0" width="6.20" height="113.20" fill="url(#bwr)"/>
<text x="535.10" y="151.65" font-size="5.15" fill="#222">300</text>
<text x="535.10" y="170.38" font-size="5.15" fill="#222">200</text>
<text x="535.10" y="189.12" font-size="5.15" fill="#222">100</text>
<text x="535.10" y="207.85" font-size="5.15" fill="#222">0</text>
<text x="534.40" y="226.58" font-size="5.15" fill="#222">-<tspan dx="1">100</tspan></text>
<text x="534.40" y="245.32" font-size="5.15" fill="#222">-<tspan dx="1">200</tspan></text>
<text x="534.40" y="264.05" font-size="5.15" fill="#222">-<tspan dx="1">300</tspan></text>
</svg>
</body></html>
